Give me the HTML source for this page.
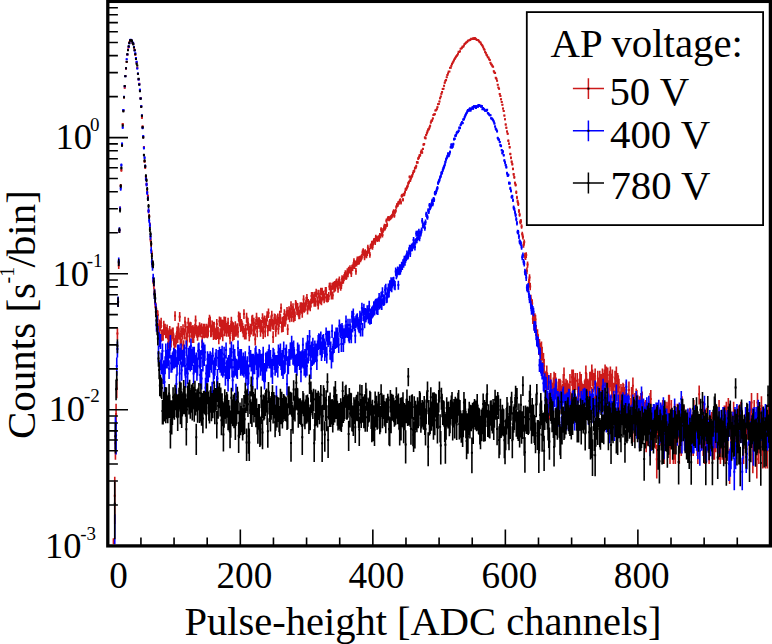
<!DOCTYPE html><html><head><meta charset="utf-8"><style>html,body{margin:0;padding:0;background:#fff;width:772px;height:644px;overflow:hidden}svg{display:block}</style></head><body>
<svg width="772" height="644" viewBox="0 0 772 644">
<rect width="772" height="644" fill="#fff"/>
<path d="M113.43 538.26V544.20M114.09 538.26V544.20M114.76 476.87V523.88M115.42 430.54V459.79M116.08 403.65V426.26M116.75 380.13V398.30M117.41 328.14V339.49M118.07 298.08V306.79M118.73 262.51V268.89M119.40 228.28V233.02M120.06 206.38V210.30M120.72 183.99V187.23M121.38 168.84V171.68M122.05 144.13V146.43M122.71 123.16V125.08M123.37 109.69V111.40M124.03 96.77V98.31M124.70 87.13V88.54M125.36 75.27V76.55M126.02 68.09V69.29M126.68 61.33V62.47M127.35 54.14V55.21M128.01 49.07V50.09M128.67 46.83V47.83M129.33 41.86V42.83M130.00 39.68V40.63M130.66 39.72V40.67M131.32 39.65V40.60M131.98 40.75V41.71M132.65 42.81V43.78M133.31 43.34V44.32M133.97 46.88V47.88M134.64 49.27V50.30M135.30 54.25V55.32M135.96 58.02V59.13M136.62 62.02V63.16M137.29 67.18V68.38M137.95 73.32V74.58M138.61 78.74V80.06M139.27 83.09V84.46M139.94 89.42V90.86M140.60 97.26V98.80M141.26 105.76V107.42M141.92 116.92V118.74M142.59 125.42V127.39M143.25 136.12V138.27M143.91 146.09V148.44M144.57 160.23V162.87M145.24 166.13V168.91M145.90 175.41V178.42M146.56 182.69V185.90M147.22 190.17V193.59M147.89 194.25V197.79M148.55 209.13V213.15M149.21 213.89V218.08M149.88 222.43V226.94M150.54 237.11V242.23M151.20 241.62V246.94M151.86 250.59V256.34M152.53 260.05V266.29M153.19 277.08V284.32M153.85 282.01V289.57M154.51 288.44V296.44M155.18 299.33V308.13M155.84 302.57V311.63M156.50 307.80V317.28M157.16 310.03V319.70M157.83 310.41V320.12M158.49 324.62V335.62M159.15 319.48V330.00M159.81 329.71V341.23M160.48 320.38V330.99M161.14 317.72V328.08M161.80 329.71V341.23M162.46 329.18V340.65M163.13 329.18V340.65M163.79 320.84V331.48M164.45 324.13V335.09M165.11 323.65V334.56M165.78 327.11V338.36M166.44 327.11V338.36M167.10 324.62V335.62M167.77 328.14V339.49M168.43 336.49V348.73M169.09 330.25V341.82M169.75 326.10V337.25M170.42 329.18V340.65M171.08 335.30V347.41M171.74 329.18V340.65M172.40 327.62V338.93M173.07 327.62V338.93M173.73 333.57V345.49M174.39 338.32V350.76M175.05 311.18V320.95M175.72 335.30V347.41M176.38 332.44V344.24M177.04 326.60V337.80M177.70 331.33V343.02M178.37 322.70V333.52M179.03 328.14V339.49M179.69 311.96V321.80M180.35 333.00V344.86M181.02 326.10V337.25M181.68 338.94V351.45M182.34 328.14V339.49M183.01 324.13V335.09M183.67 340.20V352.85M184.33 328.14V339.49M184.99 316.86V327.14M185.66 321.76V332.49M186.32 332.44V344.24M186.98 334.72V346.77M187.64 326.10V337.25M188.31 317.72V328.08M188.97 322.70V333.52M189.63 330.79V342.42M190.29 321.76V332.49M190.96 322.23V333.00M191.62 326.10V337.25M192.28 331.33V343.02M192.94 325.11V336.16M193.61 331.33V343.02M194.27 326.60V337.80M194.93 323.65V334.56M195.59 315.60V325.76M196.26 325.11V336.16M196.92 326.60V337.80M197.58 329.18V340.65M198.24 325.60V336.70M198.91 326.10V337.25M199.57 322.23V333.00M200.23 324.62V335.62M200.90 326.10V337.25M201.56 323.17V334.04M202.22 335.90V348.07M202.88 326.60V337.80M203.55 323.65V334.56M204.21 327.11V338.36M204.87 323.65V334.56M205.53 326.60V337.80M206.20 326.60V337.80M206.86 323.65V334.56M207.52 327.11V338.36M208.18 325.60V336.70M208.85 317.72V328.08M209.51 314.77V324.86M210.17 316.44V326.68M210.83 326.10V337.25M211.50 325.60V336.70M212.16 320.38V330.99M212.82 321.76V332.49M213.48 328.66V340.07M214.15 321.76V332.49M214.81 327.62V338.93M215.47 328.14V339.49M216.14 328.66V340.07M216.80 319.04V329.51M217.46 327.62V338.93M218.12 327.11V338.36M218.79 332.44V344.24M219.45 316.44V326.68M220.11 328.14V339.49M220.77 317.29V327.61M221.44 326.10V337.25M222.10 319.48V330.00M222.76 329.71V341.23M223.42 319.93V330.49M224.09 316.44V326.68M224.75 325.11V336.16M225.41 316.86V327.14M226.07 322.70V333.52M226.74 325.60V336.70M227.40 322.70V333.52M228.06 317.72V328.08M228.72 325.60V336.70M229.39 325.11V336.16M230.05 332.44V344.24M230.71 323.17V334.04M231.37 316.86V327.14M232.04 321.30V331.99M232.70 329.71V341.23M233.36 322.23V333.00M234.03 328.66V340.07M234.69 325.60V336.70M235.35 321.30V331.99M236.01 325.60V336.70M236.68 324.62V335.62M237.34 323.17V334.04M238.00 326.60V337.80M238.66 311.57V321.37M239.33 316.02V326.22M239.99 312.75V322.66M240.65 321.30V331.99M241.31 319.04V329.51M241.98 320.38V330.99M242.64 322.70V333.52M243.30 326.10V337.25M243.96 309.28V318.89M244.63 328.14V339.49M245.29 324.13V335.09M245.95 328.14V339.49M246.61 312.75V322.66M247.28 319.93V330.49M247.94 317.72V328.08M248.60 323.17V334.04M249.27 329.71V341.23M249.93 326.10V337.25M250.59 323.65V334.56M251.25 323.65V334.56M251.92 315.60V325.76M252.58 314.77V324.86M253.24 325.11V336.16M253.90 317.72V328.08M254.57 324.62V335.62M255.23 333.57V345.49M255.89 319.04V329.51M256.55 312.75V322.66M257.22 326.10V337.25M257.88 318.60V329.03M258.54 317.29V327.61M259.20 317.29V327.61M259.87 319.04V329.51M260.53 325.60V336.70M261.19 319.93V330.49M261.85 321.76V332.49M262.52 313.15V323.09M263.18 327.62V338.93M263.84 317.72V328.08M264.50 315.60V325.76M265.17 326.10V337.25M265.83 318.16V328.55M266.49 316.02V326.22M267.16 311.18V320.95M267.82 325.11V336.16M268.48 308.53V318.08M269.14 320.38V330.99M269.81 319.04V329.51M270.47 320.84V331.48M271.13 315.60V325.76M271.79 310.79V320.53M272.46 319.04V329.51M273.12 331.33V343.02M273.78 319.48V330.00M274.44 313.55V323.53M275.11 313.95V323.97M275.77 325.60V336.70M276.43 319.48V330.00M277.09 315.18V325.31M277.76 313.55V323.53M278.42 323.65V334.56M279.08 316.86V327.14M279.74 310.79V320.53M280.41 313.95V323.97M281.07 303.58V312.72M281.73 321.76V332.49M282.40 316.86V327.14M283.06 321.30V331.99M283.72 316.02V326.22M284.38 309.28V318.89M285.05 316.44V326.68M285.71 314.36V324.41M286.37 310.79V320.53M287.03 307.07V316.50M287.70 324.13V335.09M288.36 310.03V319.70M289.02 306.36V315.72M289.68 312.35V322.23M290.35 307.44V316.89M291.01 301.25V310.20M291.67 311.96V321.80M292.33 306.36V315.72M293.00 303.24V312.35M293.66 312.35V322.23M294.32 308.53V318.08M294.98 311.18V320.95M295.65 299.96V308.81M296.31 301.58V310.56M296.97 305.65V314.96M297.63 302.90V311.99M298.30 307.07V316.50M298.96 309.65V319.29M299.62 309.65V319.29M300.29 302.24V311.27M300.95 304.26V313.45M301.61 302.24V311.27M302.27 308.17V317.68M302.94 302.90V311.99M303.60 295.37V303.87M304.26 303.58V312.72M304.92 302.57V311.63M305.59 301.58V310.56M306.25 296.86V305.47M306.91 293.91V302.31M307.57 305.30V314.58M308.24 299.01V307.79M308.90 300.93V309.85M309.56 300.60V309.51M310.22 302.24V311.27M310.89 298.70V307.46M311.55 291.94V300.19M312.21 295.07V303.55M312.87 291.94V300.19M313.54 294.20V302.62M314.20 298.08V306.79M314.86 291.66V299.89M315.53 298.08V306.79M316.19 288.70V296.72M316.85 289.76V297.85M317.51 296.86V305.47M318.18 300.60V309.51M318.84 289.76V297.85M319.50 294.49V302.93M320.16 295.66V304.19M320.83 287.66V295.60M321.49 296.56V305.15M322.15 287.66V295.60M322.81 292.22V300.49M323.48 290.84V299.01M324.14 294.78V303.24M324.80 293.34V301.69M325.46 286.89V294.78M326.13 286.89V294.78M326.79 293.91V302.31M327.45 294.20V302.62M328.11 293.63V302.00M328.78 291.94V300.19M329.44 282.72V290.33M330.10 282.48V290.07M330.76 287.14V295.05M331.43 291.39V299.60M332.09 282.72V290.33M332.75 291.39V299.60M333.42 281.78V289.32M334.08 284.64V292.38M334.74 281.08V288.58M335.40 283.91V291.60M336.07 279.49V286.89M336.73 278.38V285.71M337.39 280.85V288.34M338.05 284.89V292.64M338.72 278.38V285.71M339.38 276.44V283.64M340.04 281.31V288.83M340.70 283.19V290.83M341.37 281.54V289.08M342.03 275.17V282.30M342.69 276.86V284.09M343.35 276.22V283.41M344.02 274.14V281.20M344.68 272.13V279.07M345.34 270.19V277.01M346.00 272.93V279.91M346.67 272.33V279.28M347.33 268.13V274.83M347.99 270.38V277.22M348.66 266.85V273.48M349.32 266.85V273.48M349.98 265.25V271.78M350.64 267.03V273.67M351.31 270.19V277.01M351.97 264.72V271.23M352.63 264.55V271.05M353.29 262.34V268.71M353.96 258.31V264.46M354.62 262.51V268.89M355.28 260.53V266.80M355.94 267.94V274.63M356.61 260.21V266.46M357.27 256.62V262.68M357.93 258.78V264.95M358.59 256.17V262.20M359.26 258.31V264.46M359.92 255.72V261.73M360.58 256.17V262.20M361.24 254.68V260.64M361.91 253.67V259.58M362.57 249.50V255.20M363.23 248.31V253.95M363.89 250.18V255.91M364.56 254.39V260.34M365.22 249.24V254.92M365.88 251.00V256.77M366.55 252.39V258.23M367.21 250.18V255.91M367.87 244.74V250.21M368.53 248.18V253.81M369.20 247.79V253.40M369.86 251.97V257.79M370.52 243.89V249.31M371.18 243.16V248.55M371.85 240.80V246.09M372.51 244.38V249.83M373.17 240.46V245.73M373.83 238.32V243.49M374.50 238.10V243.26M375.16 239.77V245.01M375.82 234.67V239.68M376.48 235.83V240.89M377.15 237.01V242.12M377.81 236.15V241.22M378.47 235.30V240.34M379.13 236.57V241.67M379.80 232.93V237.87M380.46 233.44V238.40M381.12 227.26V231.96M381.79 230.56V235.40M382.45 232.53V237.45M383.11 228.09V232.83M383.77 226.62V231.30M384.44 223.79V228.36M385.10 225.81V230.46M385.76 224.05V228.63M386.42 218.51V222.87M387.09 222.43V226.94M387.75 216.58V220.86M388.41 216.04V220.31M389.07 216.96V221.26M389.74 216.19V220.47M390.40 215.82V220.08M391.06 214.92V219.15M391.72 214.33V218.53M392.39 213.38V217.55M393.05 210.77V214.85M393.71 209.33V213.36M394.37 213.45V217.63M395.04 209.88V213.92M395.70 208.73V212.74M396.36 204.98V208.86M397.02 202.95V206.76M397.69 203.25V207.08M398.35 200.93V204.68M399.01 200.93V204.68M399.68 199.32V203.01M400.34 198.13V201.79M401.00 200.70V204.44M401.66 194.25V197.79M402.33 193.68V197.20M402.99 197.91V201.56M403.65 192.66V196.15M404.31 192.81V196.31M404.98 190.42V193.84M405.64 187.56V190.90M406.30 187.47V190.80M406.96 185.64V188.92M407.63 184.43V187.69M408.29 181.80V184.98M408.95 180.59V183.74M409.61 175.38V178.39M410.28 178.88V181.98M410.94 176.75V179.80M411.60 175.34V178.35M412.26 174.10V177.08M412.93 171.93V174.85M413.59 170.07V172.94M414.25 169.58V172.45M414.92 166.71V169.50M415.58 166.38V169.17M416.24 164.82V167.56M416.90 161.02V163.69M417.57 161.17V163.84M418.23 157.32V159.90M418.89 156.30V158.86M419.55 154.31V156.83M420.22 153.92V156.42M420.88 151.23V153.67M421.54 149.57V151.98M422.20 151.40V153.85M422.87 147.72V150.10M423.53 143.40V145.69M424.19 142.92V145.20M424.85 136.41V138.57M425.52 137.20V139.37M426.18 134.06V136.18M426.84 132.17V134.25M427.50 130.36V132.41M428.17 128.55V130.56M428.83 128.22V130.23M429.49 126.52V128.50M430.15 124.78V126.73M430.82 121.67V123.57M431.48 119.84V121.72M432.14 119.55V121.42M432.81 117.54V119.37M433.47 114.09V115.87M434.13 113.59V115.36M434.79 113.31V115.08M435.46 109.53V111.24M436.12 109.29V111.00M436.78 108.41V110.11M437.44 106.31V107.98M438.11 103.34V104.97M438.77 103.16V104.78M439.43 100.66V102.25M440.09 97.59V99.14M440.76 95.81V97.34M441.42 92.92V94.41M442.08 91.23V92.70M442.74 88.30V89.73M443.41 87.98V89.40M444.07 85.17V86.56M444.73 82.05V83.40M445.39 80.19V81.53M446.06 79.29V80.61M446.72 76.71V78.01M447.38 74.42V75.70M448.05 72.80V74.05M448.71 70.97V72.20M449.37 70.92V72.16M450.03 67.28V68.47M450.70 67.18V68.38M451.36 65.16V66.33M452.02 63.43V64.59M452.68 62.18V63.32M453.35 60.94V62.08M454.01 59.76V60.88M454.67 58.34V59.45M455.33 57.27V58.37M456.00 56.19V57.28M456.66 55.45V56.53M457.32 54.43V55.50M457.98 53.22V54.28M458.65 51.15V52.19M459.31 51.57V52.62M459.97 50.65V51.69M460.63 48.29V49.31M461.30 47.96V48.98M461.96 47.36V48.37M462.62 46.11V47.11M463.28 46.33V47.33M463.95 45.12V46.11M464.61 43.46V44.44M465.27 43.03V44.00M465.94 42.18V43.15M466.60 41.75V42.71M467.26 41.34V42.30M467.92 40.36V41.31M468.59 39.94V40.89M469.25 39.88V40.83M469.91 39.56V40.50M470.57 39.00V39.94M471.24 38.31V39.25M471.90 38.45V39.39M472.56 38.28V39.22M473.22 37.78V38.71M473.89 38.48V39.42M474.55 37.54V38.46M475.21 37.78V38.71M475.87 38.47V39.40M476.54 39.17V40.11M477.20 39.45V40.40M477.86 39.42V40.37M478.52 40.04V40.99M479.19 40.94V41.89M479.85 41.70V42.67M480.51 41.92V42.88M481.18 43.57V44.55M481.84 44.49V45.47M482.50 45.31V46.30M483.16 46.79V47.79M483.83 48.19V49.20M484.49 49.35V50.38M485.15 51.46V52.51M485.81 52.42V53.47M486.48 54.10V55.17M487.14 55.07V56.15M487.80 56.78V57.87M488.46 56.95V58.05M489.13 58.66V59.77M489.79 59.42V60.54M490.45 62.22V63.36M491.11 63.68V64.84M491.78 64.25V65.41M492.44 65.58V66.76M493.10 66.04V67.22M493.76 70.59V71.82M494.43 71.83V73.07M495.09 72.40V73.65M495.75 77.08V78.38M496.41 77.98V79.30M497.08 80.17V81.51M497.74 83.99V85.37M498.40 86.88V88.30M499.07 88.05V89.48M499.73 93.14V94.63M500.39 95.13V96.65M501.05 98.60V100.16M501.72 101.23V102.82M502.38 103.95V105.58M503.04 107.73V109.41M503.70 110.16V111.88M504.37 114.63V116.42M505.03 118.41V120.26M505.69 123.55V125.48M506.35 126.75V128.73M507.02 130.47V132.52M507.68 132.71V134.80M508.34 139.58V141.79M509.00 142.59V144.87M509.67 146.05V148.39M510.33 152.85V155.33M510.99 156.58V159.14M511.65 160.49V163.14M512.32 162.80V165.50M512.98 167.50V170.31M513.64 172.90V175.84M514.31 175.68V178.70M514.97 181.42V184.59M515.63 183.30V186.52M516.29 190.57V193.99M516.96 195.73V199.32M517.62 199.66V203.36M518.28 202.11V205.90M518.94 209.06V213.08M519.61 212.66V216.81M520.27 219.87V224.28M520.93 219.07V223.45M521.59 224.14V228.72M522.26 231.63V236.52M522.92 234.57V239.58M523.58 242.33V247.68M524.24 239.44V244.66M524.91 252.81V258.68M525.57 254.10V260.03M526.23 252.25V258.08M526.89 267.58V274.24M527.56 261.51V267.84M528.22 283.43V291.09M528.88 278.60V285.94M529.54 274.14V281.20M530.21 282.72V290.33M530.87 294.78V303.24M531.53 300.93V309.85M532.20 299.33V308.13M532.86 313.95V323.97M533.52 313.95V323.97M534.18 319.93V330.49M534.85 313.15V323.09M535.51 314.77V324.86M536.17 325.11V336.16M536.83 332.44V344.24M537.50 329.18V340.65M538.16 334.14V346.12M538.82 342.16V355.03M539.48 338.94V351.45M540.15 342.82V355.77M540.81 349.18V362.89M541.47 341.50V354.30M542.13 346.98V360.42M542.80 361.65V377.00M543.46 353.04V367.24M544.12 358.93V373.91M544.78 374.05V391.23M545.45 371.79V388.62M546.11 370.69V387.35M546.77 365.49V381.39M547.44 372.91V389.91M548.10 393.05V413.52M548.76 394.68V415.47M549.42 398.10V419.56M550.09 375.22V392.58M550.75 372.91V389.91M551.41 381.43V399.82M552.07 384.12V402.97M552.74 382.76V401.37M553.40 377.62V395.38M554.06 371.79V388.62M554.72 378.86V396.82M555.39 372.91V389.91M556.05 377.62V395.38M556.71 381.43V399.82M557.37 393.05V413.52M558.04 388.41V408.02M558.70 378.86V396.82M559.36 380.13V398.30M560.02 378.86V396.82M560.69 380.13V398.30M561.35 393.05V413.52M562.01 385.51V404.61M562.67 384.12V402.97M563.34 374.05V391.23M564.00 367.52V383.70M564.66 382.76V401.37M565.33 384.12V402.97M565.99 378.86V396.82M566.65 381.43V399.82M567.31 380.13V398.30M567.98 382.76V401.37M568.64 384.12V402.97M569.30 389.91V409.80M569.96 374.05V391.23M570.63 391.46V411.63M571.29 396.36V417.48M571.95 369.61V386.11M572.61 374.05V391.23M573.28 369.61V386.11M573.94 384.12V402.97M574.60 377.62V395.38M575.26 372.91V389.91M575.93 399.89V421.72M576.59 398.10V419.56M577.25 372.91V389.91M577.91 382.76V401.37M578.58 382.76V401.37M579.24 378.86V396.82M579.90 371.79V388.62M580.57 382.76V401.37M581.23 374.05V391.23M581.89 382.76V401.37M582.55 396.36V417.48M583.22 384.12V402.97M583.88 386.94V406.29M584.54 380.13V398.30M585.20 378.86V396.82M585.87 365.49V381.39M586.53 372.91V389.91M587.19 386.94V406.29M587.85 378.86V396.82M588.52 380.13V398.30M589.18 380.13V398.30M589.84 371.79V388.62M590.50 371.79V388.62M591.17 386.94V406.29M591.83 364.51V380.26M592.49 369.61V386.11M593.15 375.22V392.58M593.82 372.91V389.91M594.48 396.36V417.48M595.14 368.55V384.90M595.80 381.43V399.82M596.47 388.41V408.02M597.13 382.76V401.37M597.79 370.69V387.35M598.46 378.86V396.82M599.12 386.94V406.29M599.78 370.69V387.35M600.44 376.41V393.96M601.11 374.05V391.23M601.77 377.62V395.38M602.43 368.55V384.90M603.09 372.91V389.91M603.76 380.13V398.30M604.42 369.61V386.11M605.08 364.51V380.26M605.74 370.69V387.35M606.41 366.50V382.53M607.07 371.79V388.62M607.73 367.52V383.70M608.39 380.13V398.30M609.06 386.94V406.29M609.72 370.69V387.35M610.38 366.50V382.53M611.04 374.05V391.23M611.71 380.13V398.30M612.37 369.61V386.11M613.03 382.76V401.37M613.70 382.76V401.37M614.36 394.68V415.47M615.02 370.69V387.35M615.68 378.86V396.82M616.35 366.50V382.53M617.01 382.76V401.37M617.67 372.91V389.91M618.33 375.22V392.58M619.00 378.86V396.82M619.66 391.46V411.63M620.32 393.05V413.52M620.98 384.12V402.97M621.65 398.10V419.56M622.31 386.94V406.29M622.97 382.76V401.37M623.63 384.12V402.97M624.30 386.94V406.29M624.96 391.46V411.63M625.62 399.89V421.72M626.28 381.43V399.82M626.95 393.05V413.52M627.61 401.74V423.95M628.27 394.68V415.47M628.93 381.43V399.82M629.60 407.67V431.16M630.26 405.62V428.66M630.92 398.10V419.56M631.59 386.94V406.29M632.25 405.62V428.66M632.91 377.62V395.38M633.57 401.74V423.95M634.24 416.71V442.31M634.90 393.05V413.52M635.56 394.68V415.47M636.22 388.41V408.02M636.89 389.91V409.80M637.55 394.68V415.47M638.21 399.89V421.72M638.87 409.80V433.77M639.54 396.36V417.48M640.20 401.74V423.95M640.86 393.05V413.52M641.52 403.65V426.26M642.19 391.46V411.63M642.85 399.89V421.72M643.51 401.74V423.95M644.17 409.80V433.77M644.84 401.74V423.95M645.50 399.89V421.72M646.16 424.59V452.20M646.83 403.65V426.26M647.49 419.21V445.43M648.15 407.67V431.16M648.81 401.74V423.95M649.48 409.80V433.77M650.14 393.05V413.52M650.80 389.91V409.80M651.46 421.84V448.73M652.13 421.84V448.73M652.79 409.80V433.77M653.45 412.01V436.48M654.11 407.67V431.16M654.78 405.62V428.66M655.44 421.84V448.73M656.10 407.67V431.16M656.76 444.76V478.43M657.43 414.31V439.33M658.09 403.65V426.26M658.75 412.01V436.48M659.41 407.67V431.16M660.08 419.21V445.43M660.74 403.65V426.26M661.40 405.62V428.66M662.06 421.84V448.73M662.73 399.89V421.72M663.39 403.65V426.26M664.05 433.77V463.96M664.72 419.21V445.43M665.38 407.67V431.16M666.04 401.74V423.95M666.70 419.21V445.43M667.37 405.62V428.66M668.03 401.74V423.95M668.69 394.68V415.47M669.35 394.68V415.47M670.02 433.77V463.96M670.68 421.84V448.73M671.34 399.89V421.72M672.00 419.21V445.43M672.67 412.01V436.48M673.33 433.77V463.96M673.99 430.54V459.79M674.65 403.65V426.26M675.32 433.77V463.96M675.98 412.01V436.48M676.64 407.67V431.16M677.30 403.65V426.26M677.97 403.65V426.26M678.63 414.31V439.33M679.29 433.77V463.96M679.96 409.80V433.77M680.62 412.01V436.48M681.28 427.48V455.88M681.94 396.36V417.48M682.61 414.31V439.33M683.27 412.01V436.48M683.93 405.62V428.66M684.59 419.21V445.43M685.26 424.59V452.20M685.92 419.21V445.43M686.58 421.84V448.73M687.24 421.84V448.73M687.91 409.80V433.77M688.57 424.59V452.20M689.23 424.59V452.20M689.89 407.67V431.16M690.56 409.80V433.77M691.22 414.31V439.33M691.88 414.31V439.33M692.54 421.84V448.73M693.21 427.48V455.88M693.87 399.89V421.72M694.53 416.71V442.31M695.19 407.67V431.16M695.86 409.80V433.77M696.52 407.67V431.16M697.18 427.48V455.88M697.85 433.77V463.96M698.51 416.71V442.31M699.17 385.51V404.61M699.83 421.84V448.73M700.50 416.71V442.31M701.16 409.80V433.77M701.82 421.84V448.73M702.48 421.84V448.73M703.15 427.48V455.88M703.81 401.74V423.95M704.47 433.77V463.96M705.13 421.84V448.73M705.80 419.21V445.43M706.46 407.67V431.16M707.12 412.01V436.48M707.78 416.71V442.31M708.45 424.59V452.20M709.11 433.77V463.96M709.77 416.71V442.31M710.43 427.48V455.88M711.10 414.31V439.33M711.76 412.01V436.48M712.42 421.84V448.73M713.09 430.54V459.79M713.75 414.31V439.33M714.41 430.54V459.79M715.07 409.80V433.77M715.74 424.59V452.20M716.40 412.01V436.48M717.06 419.21V445.43M717.72 416.71V442.31M718.39 430.54V459.79M719.05 399.89V421.72M719.71 430.54V459.79M720.37 433.77V463.96M721.04 421.84V448.73M721.70 416.71V442.31M722.36 430.54V459.79M723.02 414.31V439.33M723.69 409.80V433.77M724.35 405.62V428.66M725.01 433.77V463.96M725.67 405.62V428.66M726.34 401.74V423.95M727.00 430.54V459.79M727.66 424.59V452.20M728.32 398.10V419.56M728.99 403.65V426.26M729.65 448.97V484.09M730.31 407.67V431.16M730.98 424.59V452.20M731.64 419.21V445.43M732.30 414.31V439.33M732.96 419.21V445.43M733.63 401.74V423.95M734.29 424.59V452.20M734.95 419.21V445.43M735.61 412.01V436.48M736.28 409.80V433.77M736.94 424.59V452.20M737.60 416.71V442.31M738.26 405.62V428.66M738.93 421.84V448.73M739.59 416.71V442.31M740.25 416.71V442.31M740.91 401.74V423.95M741.58 407.67V431.16M742.24 416.71V442.31M742.90 427.48V455.88M743.56 433.77V463.96M744.23 419.21V445.43M744.89 414.31V439.33M745.55 419.21V445.43M746.22 414.31V439.33M746.88 412.01V436.48M747.54 414.31V439.33M748.20 412.01V436.48M748.87 419.21V445.43M749.53 427.48V455.88M750.19 412.01V436.48M750.85 401.74V423.95M751.52 393.05V413.52M752.18 414.31V439.33M752.84 440.85V473.23M753.50 407.67V431.16M754.17 399.89V421.72M754.83 421.84V448.73M755.49 416.71V442.31M756.15 430.54V459.79M756.82 444.76V478.43M757.48 393.05V413.52M758.14 399.89V421.72M758.80 433.77V463.96M759.47 416.71V442.31M760.13 407.67V431.16M760.79 427.48V455.88M761.45 396.36V417.48M762.12 407.67V431.16M762.78 437.19V468.42M763.44 419.21V445.43M764.11 416.71V442.31M764.77 409.80V433.77M765.43 437.19V468.42M766.09 419.21V445.43M766.76 419.21V445.43M767.42 437.19V468.42M768.08 409.80V433.77M768.74 403.65V426.26" stroke="#cc1a1a" stroke-width="1.60" fill="none"/><path d="M113.76 495.82h2.00M114.42 443.37h2.00M115.08 413.88h2.00M115.75 388.52h2.00M116.41 333.54h2.00M117.07 302.27h2.00M117.73 265.61h2.00M118.40 230.60h2.00M119.06 208.31h2.00M119.72 185.59h2.00M120.38 170.24h2.00M121.05 145.27h2.00M121.71 124.11h2.00M122.37 110.54h2.00M123.03 97.53h2.00M123.70 87.83h2.00M124.36 75.90h2.00M125.02 68.69h2.00M125.68 61.90h2.00M126.35 54.67h2.00M127.01 49.58h2.00M127.67 47.33h2.00M128.33 42.34h2.00M129.00 40.15h2.00M129.66 40.19h2.00M130.32 40.12h2.00M130.98 41.23h2.00M131.65 43.30h2.00M132.31 43.83h2.00M132.97 47.38h2.00M133.64 49.78h2.00M134.30 54.78h2.00M134.96 58.57h2.00M135.62 62.59h2.00M136.29 67.78h2.00M136.95 73.95h2.00M137.61 79.40h2.00M138.27 83.77h2.00M138.94 90.13h2.00M139.60 98.03h2.00M140.26 106.58h2.00M140.92 117.82h2.00M141.59 126.40h2.00M142.25 137.19h2.00M142.91 147.25h2.00M143.57 161.54h2.00M144.24 167.50h2.00M144.90 176.90h2.00M145.56 184.27h2.00M146.22 191.86h2.00M146.89 196.00h2.00M147.55 211.11h2.00M148.21 215.95h2.00M148.88 224.64h2.00M149.54 239.62h2.00M150.20 244.22h2.00M150.86 253.39h2.00M151.53 263.09h2.00M152.19 280.59h2.00M152.85 285.67h2.00M153.51 292.30h2.00M154.18 303.57h2.00M154.84 306.93h2.00M155.50 312.35h2.00M156.16 314.67h2.00M156.83 315.07h2.00M157.49 329.86h2.00M158.15 324.51h2.00M158.81 335.19h2.00M159.48 325.45h2.00M160.14 322.68h2.00M160.80 335.19h2.00M161.46 334.64h2.00M162.13 334.64h2.00M162.79 325.92h2.00M163.45 329.36h2.00M164.11 328.85h2.00M164.78 332.47h2.00M165.44 332.47h2.00M166.10 329.86h2.00M166.77 333.54h2.00M167.43 342.29h2.00M168.09 335.75h2.00M168.75 331.41h2.00M169.42 334.64h2.00M170.08 341.05h2.00M170.74 334.64h2.00M171.40 333.00h2.00M172.07 333.00h2.00M172.73 339.23h2.00M173.39 344.21h2.00M174.05 315.86h2.00M174.72 341.05h2.00M175.38 338.05h2.00M176.04 331.94h2.00M176.70 336.89h2.00M177.37 327.86h2.00M178.03 333.54h2.00M178.69 316.67h2.00M179.35 338.64h2.00M180.02 331.41h2.00M180.68 344.86h2.00M181.34 333.54h2.00M182.01 329.36h2.00M182.67 346.19h2.00M183.33 333.54h2.00M183.99 321.78h2.00M184.66 326.88h2.00M185.32 338.05h2.00M185.98 340.44h2.00M186.64 331.41h2.00M187.31 322.68h2.00M187.97 327.86h2.00M188.63 336.32h2.00M189.29 326.88h2.00M189.96 327.37h2.00M190.62 331.41h2.00M191.28 336.89h2.00M191.94 330.38h2.00M192.61 336.89h2.00M193.27 331.94h2.00M193.93 328.85h2.00M194.59 320.46h2.00M195.26 330.38h2.00M195.92 331.94h2.00M196.58 334.64h2.00M197.24 330.89h2.00M197.91 331.41h2.00M198.57 327.37h2.00M199.23 329.86h2.00M199.90 331.41h2.00M200.56 328.35h2.00M201.22 341.67h2.00M201.88 331.94h2.00M202.55 328.85h2.00M203.21 332.47h2.00M203.87 328.85h2.00M204.53 331.94h2.00M205.20 331.94h2.00M205.86 328.85h2.00M206.52 332.47h2.00M207.18 330.89h2.00M207.85 322.68h2.00M208.51 319.60h2.00M209.17 321.34h2.00M209.83 331.41h2.00M210.50 330.89h2.00M211.16 325.45h2.00M211.82 326.88h2.00M212.48 334.09h2.00M213.15 326.88h2.00M213.81 333.00h2.00M214.47 333.54h2.00M215.14 334.09h2.00M215.80 324.04h2.00M216.46 333.00h2.00M217.12 332.47h2.00M217.79 338.05h2.00M218.45 321.34h2.00M219.11 333.54h2.00M219.77 322.23h2.00M220.44 331.41h2.00M221.10 324.51h2.00M221.76 335.19h2.00M222.42 324.98h2.00M223.09 321.34h2.00M223.75 330.38h2.00M224.41 321.78h2.00M225.07 327.86h2.00M225.74 330.89h2.00M226.40 327.86h2.00M227.06 322.68h2.00M227.72 330.89h2.00M228.39 330.38h2.00M229.05 338.05h2.00M229.71 328.35h2.00M230.37 321.78h2.00M231.04 326.40h2.00M231.70 335.19h2.00M232.36 327.37h2.00M233.03 334.09h2.00M233.69 330.89h2.00M234.35 326.40h2.00M235.01 330.89h2.00M235.68 329.86h2.00M236.34 328.35h2.00M237.00 331.94h2.00M237.66 316.27h2.00M238.33 320.90h2.00M238.99 317.49h2.00M239.65 326.40h2.00M240.31 324.04h2.00M240.98 325.45h2.00M241.64 327.86h2.00M242.30 331.41h2.00M242.96 313.89h2.00M243.63 333.54h2.00M244.29 329.36h2.00M244.95 333.54h2.00M245.61 317.49h2.00M246.28 324.98h2.00M246.94 322.68h2.00M247.60 328.35h2.00M248.27 335.19h2.00M248.93 331.41h2.00M249.59 328.85h2.00M250.25 328.85h2.00M250.92 320.46h2.00M251.58 319.60h2.00M252.24 330.38h2.00M252.90 322.68h2.00M253.57 329.86h2.00M254.23 339.23h2.00M254.89 324.04h2.00M255.55 317.49h2.00M256.22 331.41h2.00M256.88 323.58h2.00M257.54 322.23h2.00M258.20 322.23h2.00M258.87 324.04h2.00M259.53 330.89h2.00M260.19 324.98h2.00M260.85 326.88h2.00M261.52 317.91h2.00M262.18 333.00h2.00M262.84 322.68h2.00M263.50 320.46h2.00M264.17 331.41h2.00M264.83 323.13h2.00M265.49 320.90h2.00M266.16 315.86h2.00M266.82 330.38h2.00M267.48 313.11h2.00M268.14 325.45h2.00M268.81 324.04h2.00M269.47 325.92h2.00M270.13 320.46h2.00M270.79 315.46h2.00M271.46 324.04h2.00M272.12 336.89h2.00M272.78 324.51h2.00M273.44 318.33h2.00M274.11 318.75h2.00M274.77 330.89h2.00M275.43 324.51h2.00M276.09 320.03h2.00M276.76 318.33h2.00M277.42 328.85h2.00M278.08 321.78h2.00M278.74 315.46h2.00M279.41 318.75h2.00M280.07 307.97h2.00M280.73 326.88h2.00M281.40 321.78h2.00M282.06 326.40h2.00M282.72 320.90h2.00M283.38 313.89h2.00M284.05 321.34h2.00M284.71 319.17h2.00M285.37 315.46h2.00M286.03 311.60h2.00M286.70 329.36h2.00M287.36 314.67h2.00M288.02 310.86h2.00M288.68 317.08h2.00M289.35 311.97h2.00M290.01 305.56h2.00M290.67 316.67h2.00M291.33 310.86h2.00M292.00 307.62h2.00M292.66 317.08h2.00M293.32 313.11h2.00M293.98 315.86h2.00M294.65 304.22h2.00M295.31 305.90h2.00M295.97 310.12h2.00M296.63 307.27h2.00M297.30 311.60h2.00M297.96 314.28h2.00M298.62 314.28h2.00M299.29 306.58h2.00M299.95 308.68h2.00M300.61 306.58h2.00M301.27 312.73h2.00M301.94 307.27h2.00M302.60 299.47h2.00M303.26 307.97h2.00M303.92 306.93h2.00M304.59 305.90h2.00M305.25 301.01h2.00M305.91 297.96h2.00M306.57 309.76h2.00M307.24 303.24h2.00M307.90 305.22h2.00M308.56 304.89h2.00M309.22 306.58h2.00M309.89 302.92h2.00M310.55 295.92h2.00M311.21 299.16h2.00M311.87 295.92h2.00M312.54 298.26h2.00M313.20 302.27h2.00M313.86 295.63h2.00M314.53 302.27h2.00M315.19 292.57h2.00M315.85 293.67h2.00M316.51 301.01h2.00M317.18 304.89h2.00M317.84 293.67h2.00M318.50 298.56h2.00M319.16 299.77h2.00M319.83 291.50h2.00M320.49 300.70h2.00M321.15 291.50h2.00M321.81 296.21h2.00M322.48 294.78h2.00M323.14 298.86h2.00M323.80 297.37h2.00M324.46 290.70h2.00M325.13 290.70h2.00M325.79 297.96h2.00M326.45 298.26h2.00M327.11 297.67h2.00M327.78 295.92h2.00M328.44 286.40h2.00M329.10 286.16h2.00M329.76 290.97h2.00M330.43 295.35h2.00M331.09 286.40h2.00M331.75 295.35h2.00M332.42 285.43h2.00M333.08 288.39h2.00M333.74 284.71h2.00M334.40 287.63h2.00M335.07 283.07h2.00M335.73 281.93h2.00M336.39 284.48h2.00M337.05 288.64h2.00M337.72 281.93h2.00M338.38 279.93h2.00M339.04 284.95h2.00M339.70 286.89h2.00M340.37 285.19h2.00M341.03 278.63h2.00M341.69 280.37h2.00M342.35 279.71h2.00M343.02 277.57h2.00M343.68 275.50h2.00M344.34 273.50h2.00M345.00 276.32h2.00M345.67 275.70h2.00M346.33 271.38h2.00M346.99 273.70h2.00M347.66 270.07h2.00M348.32 270.07h2.00M348.98 268.43h2.00M349.64 270.26h2.00M350.31 273.50h2.00M350.97 267.89h2.00M351.63 267.71h2.00M352.29 265.44h2.00M352.96 261.30h2.00M353.62 265.61h2.00M354.28 263.58h2.00M354.94 271.19h2.00M355.61 263.25h2.00M356.27 259.57h2.00M356.93 261.79h2.00M357.59 259.11h2.00M358.26 261.30h2.00M358.92 258.65h2.00M359.58 259.11h2.00M360.24 257.59h2.00M360.91 256.55h2.00M361.57 252.28h2.00M362.23 251.06h2.00M362.89 252.97h2.00M363.56 257.29h2.00M364.22 252.01h2.00M364.88 253.81h2.00M365.55 255.24h2.00M366.21 252.97h2.00M366.87 247.42h2.00M367.53 250.93h2.00M368.20 250.53h2.00M368.86 254.81h2.00M369.52 246.54h2.00M370.18 245.80h2.00M370.85 243.39h2.00M371.51 247.04h2.00M372.17 243.04h2.00M372.83 240.85h2.00M373.50 240.62h2.00M374.16 242.34h2.00M374.82 237.13h2.00M375.48 238.30h2.00M376.15 239.51h2.00M376.81 238.63h2.00M377.47 237.77h2.00M378.13 239.07h2.00M378.80 235.35h2.00M379.46 235.87h2.00M380.12 229.57h2.00M380.79 232.93h2.00M381.45 234.94h2.00M382.11 230.41h2.00M382.77 228.92h2.00M383.44 226.03h2.00M384.10 228.09h2.00M384.76 226.30h2.00M385.42 220.65h2.00M386.09 224.64h2.00M386.75 218.68h2.00M387.41 218.14h2.00M388.07 219.07h2.00M388.74 218.29h2.00M389.40 217.91h2.00M390.06 217.00h2.00M390.72 216.39h2.00M391.39 215.43h2.00M392.05 212.77h2.00M392.71 211.31h2.00M393.37 215.50h2.00M394.04 211.86h2.00M394.70 210.70h2.00M395.36 206.89h2.00M396.02 204.83h2.00M396.69 205.13h2.00M397.35 202.77h2.00M398.01 202.77h2.00M398.68 201.13h2.00M399.34 199.93h2.00M400.00 202.54h2.00M400.66 196.00h2.00M401.33 195.42h2.00M401.99 199.71h2.00M402.65 194.38h2.00M403.31 194.53h2.00M403.98 192.11h2.00M404.64 189.21h2.00M405.30 189.11h2.00M405.96 187.26h2.00M406.63 186.04h2.00M407.29 183.37h2.00M407.95 182.14h2.00M408.61 176.86h2.00M409.28 180.41h2.00M409.94 178.26h2.00M410.60 176.82h2.00M411.26 175.57h2.00M411.93 173.37h2.00M412.59 171.49h2.00M413.25 171.00h2.00M413.92 168.09h2.00M414.58 167.76h2.00M415.24 166.17h2.00M415.90 162.34h2.00M416.57 162.49h2.00M417.23 158.60h2.00M417.89 157.57h2.00M418.55 155.56h2.00M419.22 155.16h2.00M419.88 152.44h2.00M420.54 150.76h2.00M421.20 152.62h2.00M421.87 148.90h2.00M422.53 144.53h2.00M423.19 144.05h2.00M423.85 137.48h2.00M424.52 138.27h2.00M425.18 135.11h2.00M425.84 133.20h2.00M426.50 131.38h2.00M427.17 129.54h2.00M427.83 129.22h2.00M428.49 127.50h2.00M429.15 125.75h2.00M429.82 122.61h2.00M430.48 120.77h2.00M431.14 120.48h2.00M431.81 118.45h2.00M432.47 114.98h2.00M433.13 114.47h2.00M433.79 114.19h2.00M434.46 110.38h2.00M435.12 110.14h2.00M435.78 109.26h2.00M436.44 107.14h2.00M437.11 104.15h2.00M437.77 103.96h2.00M438.43 101.45h2.00M439.09 98.36h2.00M439.76 96.57h2.00M440.42 93.66h2.00M441.08 91.96h2.00M441.74 89.01h2.00M442.41 88.69h2.00M443.07 85.86h2.00M443.73 82.72h2.00M444.39 80.86h2.00M445.06 79.94h2.00M445.72 77.36h2.00M446.38 75.06h2.00M447.05 73.42h2.00M447.71 71.58h2.00M448.37 71.54h2.00M449.03 67.87h2.00M449.70 67.78h2.00M450.36 65.74h2.00M451.02 64.00h2.00M451.68 62.75h2.00M452.35 61.51h2.00M453.01 60.32h2.00M453.67 58.89h2.00M454.33 57.82h2.00M455.00 56.73h2.00M455.66 55.99h2.00M456.32 54.96h2.00M456.98 53.75h2.00M457.65 51.67h2.00M458.31 52.09h2.00M458.97 51.17h2.00M459.63 48.80h2.00M460.30 48.47h2.00M460.96 47.87h2.00M461.62 46.61h2.00M462.28 46.83h2.00M462.95 45.61h2.00M463.61 43.95h2.00M464.27 43.52h2.00M464.94 42.66h2.00M465.60 42.23h2.00M466.26 41.82h2.00M466.92 40.83h2.00M467.59 40.41h2.00M468.25 40.35h2.00M468.91 40.03h2.00M469.57 39.47h2.00M470.24 38.78h2.00M470.90 38.92h2.00M471.56 38.75h2.00M472.22 38.24h2.00M472.89 38.95h2.00M473.55 38.00h2.00M474.21 38.24h2.00M474.87 38.93h2.00M475.54 39.64h2.00M476.20 39.93h2.00M476.86 39.89h2.00M477.52 40.51h2.00M478.19 41.41h2.00M478.85 42.18h2.00M479.51 42.40h2.00M480.18 44.06h2.00M480.84 44.98h2.00M481.50 45.80h2.00M482.16 47.29h2.00M482.83 48.69h2.00M483.49 49.86h2.00M484.15 51.98h2.00M484.81 52.94h2.00M485.48 54.63h2.00M486.14 55.61h2.00M486.80 57.32h2.00M487.46 57.50h2.00M488.13 59.21h2.00M488.79 59.98h2.00M489.45 62.79h2.00M490.11 64.26h2.00M490.78 64.83h2.00M491.44 66.17h2.00M492.10 66.63h2.00M492.76 71.20h2.00M493.43 72.45h2.00M494.09 73.02h2.00M494.75 77.73h2.00M495.41 78.64h2.00M496.08 80.83h2.00M496.74 84.67h2.00M497.40 87.59h2.00M498.07 88.76h2.00M498.73 93.88h2.00M499.39 95.89h2.00M500.05 99.37h2.00M500.72 102.02h2.00M501.38 104.76h2.00M502.04 108.56h2.00M502.70 111.01h2.00M503.37 115.52h2.00M504.03 119.32h2.00M504.69 124.51h2.00M505.35 127.73h2.00M506.02 131.48h2.00M506.68 133.75h2.00M507.34 140.67h2.00M508.00 143.72h2.00M508.67 147.21h2.00M509.33 154.08h2.00M509.99 157.84h2.00M510.65 161.80h2.00M511.32 164.13h2.00M511.98 168.89h2.00M512.64 174.35h2.00M513.31 177.17h2.00M513.97 182.99h2.00M514.63 184.89h2.00M515.29 192.25h2.00M515.96 197.50h2.00M516.62 201.48h2.00M517.28 203.97h2.00M517.94 211.04h2.00M518.61 214.70h2.00M519.27 222.04h2.00M519.93 221.22h2.00M520.59 226.38h2.00M521.26 234.02h2.00M521.92 237.02h2.00M522.58 244.94h2.00M523.24 241.99h2.00M523.91 255.67h2.00M524.57 256.99h2.00M525.23 255.09h2.00M525.89 270.82h2.00M526.56 264.59h2.00M527.22 287.14h2.00M527.88 282.16h2.00M528.54 277.57h2.00M529.21 286.40h2.00M529.87 298.86h2.00M530.53 305.22h2.00M531.20 303.57h2.00M531.86 318.75h2.00M532.52 318.75h2.00M533.18 324.98h2.00M533.85 317.91h2.00M534.51 319.60h2.00M535.17 330.38h2.00M535.83 338.05h2.00M536.50 334.64h2.00M537.16 339.83h2.00M537.82 348.24h2.00M538.48 344.86h2.00M539.15 348.94h2.00M539.81 355.64h2.00M540.47 347.55h2.00M541.13 353.32h2.00M541.80 368.83h2.00M542.46 359.72h2.00M543.12 365.95h2.00M543.78 382.02h2.00M544.45 379.61h2.00M545.11 378.44h2.00M545.77 372.91h2.00M546.44 380.80h2.00M547.10 402.40h2.00M547.76 404.17h2.00M548.42 407.86h2.00M549.09 383.26h2.00M549.75 380.80h2.00M550.41 389.91h2.00M551.07 392.80h2.00M551.74 391.34h2.00M552.40 385.83h2.00M553.06 379.61h2.00M553.72 387.16h2.00M554.39 380.80h2.00M555.05 385.83h2.00M555.71 389.91h2.00M556.37 402.40h2.00M557.04 397.40h2.00M557.70 387.16h2.00M558.36 388.52h2.00M559.02 387.16h2.00M559.69 388.52h2.00M560.35 402.40h2.00M561.01 394.29h2.00M561.67 392.80h2.00M562.34 382.02h2.00M563.00 375.06h2.00M563.66 391.34h2.00M564.33 392.80h2.00M564.99 387.16h2.00M565.65 389.91h2.00M566.31 388.52h2.00M566.98 391.34h2.00M567.64 392.80h2.00M568.30 399.02h2.00M568.96 382.02h2.00M569.63 400.69h2.00M570.29 405.99h2.00M570.95 377.29h2.00M571.61 382.02h2.00M572.28 377.29h2.00M572.94 392.80h2.00M573.60 385.83h2.00M574.26 380.80h2.00M574.93 409.80h2.00M575.59 407.86h2.00M576.25 380.80h2.00M576.91 391.34h2.00M577.58 391.34h2.00M578.24 387.16h2.00M578.90 379.61h2.00M579.57 391.34h2.00M580.23 382.02h2.00M580.89 391.34h2.00M581.55 405.99h2.00M582.22 392.80h2.00M582.88 395.83h2.00M583.54 388.52h2.00M584.20 387.16h2.00M584.87 372.91h2.00M585.53 380.80h2.00M586.19 395.83h2.00M586.85 387.16h2.00M587.52 388.52h2.00M588.18 388.52h2.00M588.84 379.61h2.00M589.50 379.61h2.00M590.17 395.83h2.00M590.83 371.86h2.00M591.49 377.29h2.00M592.15 383.26h2.00M592.82 380.80h2.00M593.48 405.99h2.00M594.14 376.16h2.00M594.80 389.91h2.00M595.47 397.40h2.00M596.13 391.34h2.00M596.79 378.44h2.00M597.46 387.16h2.00M598.12 395.83h2.00M598.78 378.44h2.00M599.44 384.53h2.00M600.11 382.02h2.00M600.77 385.83h2.00M601.43 376.16h2.00M602.09 380.80h2.00M602.76 388.52h2.00M603.42 377.29h2.00M604.08 371.86h2.00M604.74 378.44h2.00M605.41 373.97h2.00M606.07 379.61h2.00M606.73 375.06h2.00M607.39 388.52h2.00M608.06 395.83h2.00M608.72 378.44h2.00M609.38 373.97h2.00M610.04 382.02h2.00M610.71 388.52h2.00M611.37 377.29h2.00M612.03 391.34h2.00M612.70 391.34h2.00M613.36 404.17h2.00M614.02 378.44h2.00M614.68 387.16h2.00M615.35 373.97h2.00M616.01 391.34h2.00M616.67 380.80h2.00M617.33 383.26h2.00M618.00 387.16h2.00M618.66 400.69h2.00M619.32 402.40h2.00M619.98 392.80h2.00M620.65 407.86h2.00M621.31 395.83h2.00M621.97 391.34h2.00M622.63 392.80h2.00M623.30 395.83h2.00M623.96 400.69h2.00M624.62 409.80h2.00M625.28 389.91h2.00M625.95 402.40h2.00M626.61 411.80h2.00M627.27 404.17h2.00M627.93 389.91h2.00M628.60 418.26h2.00M629.26 416.03h2.00M629.92 407.86h2.00M630.59 395.83h2.00M631.25 416.03h2.00M631.91 385.83h2.00M632.57 411.80h2.00M633.24 428.13h2.00M633.90 402.40h2.00M634.56 404.17h2.00M635.22 397.40h2.00M635.89 399.02h2.00M636.55 404.17h2.00M637.21 409.80h2.00M637.87 420.58h2.00M638.54 405.99h2.00M639.20 411.80h2.00M639.86 402.40h2.00M640.52 413.88h2.00M641.19 400.69h2.00M641.85 409.80h2.00M642.51 411.80h2.00M643.17 420.58h2.00M643.84 411.80h2.00M644.50 409.80h2.00M645.16 436.80h2.00M645.83 413.88h2.00M646.49 430.88h2.00M647.15 418.26h2.00M647.81 411.80h2.00M648.48 420.58h2.00M649.14 402.40h2.00M649.80 399.02h2.00M650.46 433.77h2.00M651.13 433.77h2.00M651.79 420.58h2.00M652.45 422.99h2.00M653.11 418.26h2.00M653.78 416.03h2.00M654.44 433.77h2.00M655.10 418.26h2.00M655.76 459.23h2.00M656.43 425.51h2.00M657.09 413.88h2.00M657.75 422.99h2.00M658.41 418.26h2.00M659.08 430.88h2.00M659.74 413.88h2.00M660.40 416.03h2.00M661.06 433.77h2.00M661.73 409.80h2.00M662.39 413.88h2.00M663.05 446.96h2.00M663.72 430.88h2.00M664.38 418.26h2.00M665.04 411.80h2.00M665.70 430.88h2.00M666.37 416.03h2.00M667.03 411.80h2.00M667.69 404.17h2.00M668.35 404.17h2.00M669.02 446.96h2.00M669.68 433.77h2.00M670.34 409.80h2.00M671.00 430.88h2.00M671.67 422.99h2.00M672.33 446.96h2.00M672.99 443.37h2.00M673.65 413.88h2.00M674.32 446.96h2.00M674.98 422.99h2.00M675.64 418.26h2.00M676.30 413.88h2.00M676.97 413.88h2.00M677.63 425.51h2.00M678.29 446.96h2.00M678.96 420.58h2.00M679.62 422.99h2.00M680.28 439.99h2.00M680.94 405.99h2.00M681.61 425.51h2.00M682.27 422.99h2.00M682.93 416.03h2.00M683.59 430.88h2.00M684.26 436.80h2.00M684.92 430.88h2.00M685.58 433.77h2.00M686.24 433.77h2.00M686.91 420.58h2.00M687.57 436.80h2.00M688.23 436.80h2.00M688.89 418.26h2.00M689.56 420.58h2.00M690.22 425.51h2.00M690.88 425.51h2.00M691.54 433.77h2.00M692.21 439.99h2.00M692.87 409.80h2.00M693.53 428.13h2.00M694.19 418.26h2.00M694.86 420.58h2.00M695.52 418.26h2.00M696.18 439.99h2.00M696.85 446.96h2.00M697.51 428.13h2.00M698.17 394.29h2.00M698.83 433.77h2.00M699.50 428.13h2.00M700.16 420.58h2.00M700.82 433.77h2.00M701.48 433.77h2.00M702.15 439.99h2.00M702.81 411.80h2.00M703.47 446.96h2.00M704.13 433.77h2.00M704.80 430.88h2.00M705.46 418.26h2.00M706.12 422.99h2.00M706.78 428.13h2.00M707.45 436.80h2.00M708.11 446.96h2.00M708.77 428.13h2.00M709.43 439.99h2.00M710.10 425.51h2.00M710.76 422.99h2.00M711.42 433.77h2.00M712.09 443.37h2.00M712.75 425.51h2.00M713.41 443.37h2.00M714.07 420.58h2.00M714.74 436.80h2.00M715.40 422.99h2.00M716.06 430.88h2.00M716.72 428.13h2.00M717.39 443.37h2.00M718.05 409.80h2.00M718.71 443.37h2.00M719.37 446.96h2.00M720.04 433.77h2.00M720.70 428.13h2.00M721.36 443.37h2.00M722.02 425.51h2.00M722.69 420.58h2.00M723.35 416.03h2.00M724.01 446.96h2.00M724.67 416.03h2.00M725.34 411.80h2.00M726.00 443.37h2.00M726.66 436.80h2.00M727.32 407.86h2.00M727.99 413.88h2.00M728.65 463.96h2.00M729.31 418.26h2.00M729.98 436.80h2.00M730.64 430.88h2.00M731.30 425.51h2.00M731.96 430.88h2.00M732.63 411.80h2.00M733.29 436.80h2.00M733.95 430.88h2.00M734.61 422.99h2.00M735.28 420.58h2.00M735.94 436.80h2.00M736.60 428.13h2.00M737.26 416.03h2.00M737.93 433.77h2.00M738.59 428.13h2.00M739.25 428.13h2.00M739.91 411.80h2.00M740.58 418.26h2.00M741.24 428.13h2.00M741.90 439.99h2.00M742.56 446.96h2.00M743.23 430.88h2.00M743.89 425.51h2.00M744.55 430.88h2.00M745.22 425.51h2.00M745.88 422.99h2.00M746.54 425.51h2.00M747.20 422.99h2.00M747.87 430.88h2.00M748.53 439.99h2.00M749.19 422.99h2.00M749.85 411.80h2.00M750.52 402.40h2.00M751.18 425.51h2.00M751.84 454.85h2.00M752.50 418.26h2.00M753.17 409.80h2.00M753.83 433.77h2.00M754.49 428.13h2.00M755.15 443.37h2.00M755.82 459.23h2.00M756.48 402.40h2.00M757.14 409.80h2.00M757.80 446.96h2.00M758.47 428.13h2.00M759.13 418.26h2.00M759.79 439.99h2.00M760.45 405.99h2.00M761.12 418.26h2.00M761.78 450.77h2.00M762.44 430.88h2.00M763.11 428.13h2.00M763.77 420.58h2.00M764.43 450.77h2.00M765.09 430.88h2.00M765.76 430.88h2.00M766.42 450.77h2.00M767.08 420.58h2.00M767.74 413.88h2.00" stroke="#cc1a1a" stroke-width="2.00" fill="none"/>
<path d="M114.76 514.29V544.20M115.42 416.88V449.26M116.08 420.79V454.46M116.75 357.46V375.85M117.41 341.53V357.42M118.07 296.42V307.02M118.73 257.58V265.11M119.40 227.17V232.95M120.06 206.50V211.33M120.72 186.59V190.67M121.38 163.41V166.74M122.05 142.45V145.24M122.71 126.41V128.84M123.37 108.95V111.04M124.03 95.92V97.80M124.70 85.48V87.20M125.36 75.44V77.01M126.02 67.64V69.11M126.68 58.58V59.94M127.35 53.77V55.08M128.01 49.36V50.62M128.67 46.24V47.47M129.33 42.80V43.99M130.00 39.76V40.92M130.66 39.23V40.39M131.32 39.33V40.49M131.98 40.32V41.48M132.65 41.79V42.97M133.31 42.94V44.14M133.97 46.37V47.60M134.64 49.92V51.18M135.30 52.63V53.92M135.96 57.23V58.57M136.62 61.17V62.56M137.29 67.76V69.23M137.95 72.82V74.36M138.61 78.75V80.37M139.27 83.31V84.99M139.94 88.79V90.56M140.60 97.52V99.42M141.26 105.21V107.24M141.92 114.39V116.58M142.59 126.74V129.17M143.25 134.88V137.49M143.91 146.62V149.51M144.57 156.13V159.26M145.24 164.48V167.85M145.90 177.20V180.95M146.56 182.60V186.53M147.22 190.88V195.10M147.89 196.23V200.65M148.55 208.26V213.17M149.21 218.00V223.34M149.88 222.79V228.35M150.54 233.57V239.68M151.20 246.99V253.86M151.86 258.04V265.61M152.53 262.92V270.82M153.19 273.81V282.49M153.85 277.29V286.24M154.51 289.18V299.12M155.18 294.19V304.59M155.84 303.65V314.96M156.50 318.85V331.80M157.16 315.60V328.18M157.83 325.97V339.77M158.49 345.65V362.15M159.15 332.37V346.99M159.81 360.15V379.00M160.48 334.09V348.94M161.14 352.44V370.00M161.80 356.17V374.34M162.46 343.55V359.74M163.13 364.44V384.05M163.79 360.15V379.00M164.45 372.40V393.52M165.11 356.17V374.34M165.78 343.55V359.74M166.44 351.25V368.62M167.10 351.25V368.62M167.77 342.53V358.57M168.43 348.94V365.95M169.09 360.15V379.00M169.75 342.53V358.57M170.42 334.97V349.94M171.08 354.90V372.85M171.74 354.90V372.85M172.40 352.44V370.00M173.07 351.25V368.62M173.73 347.82V364.65M174.39 351.25V368.62M175.05 348.94V365.95M175.72 350.08V367.27M176.38 374.13V395.60M177.04 357.46V375.85M177.70 344.59V360.93M178.37 347.82V364.65M179.03 344.59V360.93M179.69 364.44V384.05M180.35 347.82V364.65M181.02 343.55V359.74M181.68 361.55V380.64M182.34 350.08V367.27M183.01 350.08V367.27M183.67 348.94V365.95M184.33 344.59V360.93M184.99 357.46V375.85M185.66 367.49V387.67M186.32 340.54V356.29M186.98 356.17V374.34M187.64 364.44V384.05M188.31 347.82V364.65M188.97 352.44V370.00M189.63 345.65V362.15M190.29 353.65V371.41M190.96 338.62V354.10M191.62 352.44V370.00M192.28 348.94V365.95M192.94 346.72V363.39M193.61 364.44V384.05M194.27 346.72V363.39M194.93 354.90V372.85M195.59 354.90V372.85M196.26 352.44V370.00M196.92 361.55V380.64M197.58 357.46V375.85M198.24 343.55V359.74M198.91 342.53V358.57M199.57 351.25V368.62M200.23 365.95V385.83M200.90 350.08V367.27M201.56 369.08V389.56M202.22 339.58V355.19M202.88 353.65V371.41M203.55 342.53V358.57M204.21 348.94V365.95M204.87 344.59V360.93M205.53 377.77V399.98M206.20 364.44V384.05M206.86 364.44V384.05M207.52 351.25V368.62M208.18 362.98V382.32M208.85 353.65V371.41M209.51 358.79V377.41M210.17 351.25V368.62M210.83 352.44V370.00M211.50 354.90V372.85M212.16 381.66V404.70M212.82 347.82V364.65M213.48 364.44V384.05M214.15 360.15V379.00M214.81 357.46V375.85M215.47 352.44V370.00M216.14 348.94V365.95M216.80 375.92V397.75M217.46 369.08V389.56M218.12 350.08V367.27M218.79 352.44V370.00M219.45 346.72V363.39M220.11 354.90V372.85M220.77 348.94V365.95M221.44 357.46V375.85M222.10 345.65V362.15M222.76 358.79V377.41M223.42 357.46V375.85M224.09 346.72V363.39M224.75 354.90V372.85M225.41 365.95V385.83M226.07 342.53V358.57M226.74 360.15V379.00M227.40 357.46V375.85M228.06 370.71V391.51M228.72 354.90V372.85M229.39 360.15V379.00M230.05 347.82V364.65M230.71 351.25V368.62M231.37 341.53V357.42M232.04 358.79V377.41M232.70 370.71V391.51M233.36 344.59V360.93M234.03 358.79V377.41M234.69 348.94V365.95M235.35 357.46V375.85M236.01 383.71V407.20M236.68 358.79V377.41M237.34 360.15V379.00M238.00 340.54V356.29M238.66 352.44V370.00M239.33 351.25V368.62M239.99 348.94V365.95M240.65 357.46V375.85M241.31 348.94V365.95M241.98 356.17V374.34M242.64 357.46V375.85M243.30 352.44V370.00M243.96 358.79V377.41M244.63 356.17V374.34M245.29 351.25V368.62M245.95 365.95V385.83M246.61 360.15V379.00M247.28 356.17V374.34M247.94 374.13V395.60M248.60 364.44V384.05M249.27 345.65V362.15M249.93 350.08V367.27M250.59 350.08V367.27M251.25 353.65V371.41M251.92 353.65V371.41M252.58 369.08V389.56M253.24 353.65V371.41M253.90 356.17V374.34M254.57 356.17V374.34M255.23 347.82V364.65M255.89 345.65V362.15M256.55 352.44V370.00M257.22 369.08V389.56M257.88 353.65V371.41M258.54 358.79V377.41M259.20 348.94V365.95M259.87 350.08V367.27M260.53 357.46V375.85M261.19 353.65V371.41M261.85 353.65V371.41M262.52 361.55V380.64M263.18 346.72V363.39M263.84 362.98V382.32M264.50 369.08V389.56M265.17 362.98V382.32M265.83 352.44V370.00M266.49 353.65V371.41M267.16 351.25V368.62M267.82 351.25V368.62M268.48 348.94V365.95M269.14 344.59V360.93M269.81 351.25V368.62M270.47 350.08V367.27M271.13 358.79V377.41M271.79 358.79V377.41M272.46 364.44V384.05M273.12 347.82V364.65M273.78 348.94V365.95M274.44 352.44V370.00M275.11 357.46V375.85M275.77 354.90V372.85M276.43 385.83V409.80M277.09 354.90V372.85M277.76 358.79V377.41M278.42 344.59V360.93M279.08 347.82V364.65M279.74 348.94V365.95M280.41 343.55V359.74M281.07 352.44V370.00M281.73 357.46V375.85M282.40 350.08V367.27M283.06 360.15V379.00M283.72 341.53V357.42M284.38 356.17V374.34M285.05 354.90V372.85M285.71 347.82V364.65M286.37 344.59V360.93M287.03 374.13V395.60M287.70 356.17V374.34M288.36 356.17V374.34M289.02 348.94V365.95M289.68 348.94V365.95M290.35 342.53V358.57M291.01 343.55V359.74M291.67 335.86V350.95M292.33 342.53V358.57M293.00 347.82V364.65M293.66 340.54V356.29M294.32 348.94V365.95M294.98 354.90V372.85M295.65 354.90V372.85M296.31 353.65V371.41M296.97 357.46V375.85M297.63 342.53V358.57M298.30 348.94V365.95M298.96 344.59V360.93M299.62 352.44V370.00M300.29 351.25V368.62M300.95 362.98V382.32M301.61 351.25V368.62M302.27 350.08V367.27M302.94 337.69V353.03M303.60 351.25V368.62M304.26 357.46V375.85M304.92 348.94V365.95M305.59 358.79V377.41M306.25 342.53V358.57M306.91 357.46V375.85M307.57 334.97V349.94M308.24 346.72V363.39M308.90 340.54V356.29M309.56 329.88V344.18M310.22 344.59V360.93M310.89 360.15V379.00M311.55 341.53V357.42M312.21 348.94V365.95M312.87 337.69V353.03M313.54 347.82V364.65M314.20 346.72V363.39M314.86 340.54V356.29M315.53 345.65V362.15M316.19 343.55V359.74M316.85 352.44V370.00M317.51 340.54V356.29M318.18 334.97V349.94M318.84 333.22V347.96M319.50 334.09V348.94M320.16 339.58V355.19M320.83 331.53V346.04M321.49 344.59V360.93M322.15 341.53V357.42M322.81 334.97V349.94M323.48 334.09V348.94M324.14 338.62V354.10M324.80 344.59V360.93M325.46 341.53V357.42M326.13 327.50V341.50M326.79 346.72V363.39M327.45 330.70V345.11M328.11 332.37V346.99M328.78 330.70V345.11M329.44 330.70V345.11M330.10 343.55V359.74M330.76 341.53V357.42M331.43 351.25V368.62M332.09 324.47V338.09M332.75 345.65V362.15M333.42 337.69V353.03M334.08 337.69V353.03M334.74 331.53V346.04M335.40 334.09V348.94M336.07 327.50V341.50M336.73 333.22V347.96M337.39 327.50V341.50M338.05 332.37V346.99M338.72 337.69V353.03M339.38 319.53V332.56M340.04 323.74V337.27M340.70 324.47V338.09M341.37 336.77V351.98M342.03 323.02V336.46M342.69 325.22V338.93M343.35 336.77V351.98M344.02 328.29V342.38M344.68 329.08V343.28M345.34 324.47V338.09M346.00 315.60V328.18M346.67 323.74V337.27M347.33 324.47V338.09M347.99 318.85V331.80M348.66 327.50V341.50M349.32 329.08V343.28M349.98 318.85V331.80M350.64 325.97V339.77M351.31 329.08V343.28M351.97 310.75V322.80M352.63 319.53V332.56M353.29 308.48V320.28M353.96 316.24V328.89M354.62 318.19V331.06M355.28 329.08V343.28M355.94 315.60V328.18M356.61 314.35V326.79M357.27 313.13V325.43M357.93 316.88V329.60M358.59 318.85V331.80M359.26 320.21V333.32M359.92 310.75V322.80M360.58 323.02V336.46M361.24 312.53V324.76M361.91 302.63V313.84M362.57 323.02V336.46M363.23 309.04V320.90M363.89 303.65V314.96M364.56 315.60V328.18M365.22 307.92V319.66M365.88 310.18V322.16M366.55 308.48V320.28M367.21 305.22V316.68M367.87 307.37V319.05M368.53 311.34V323.45M369.20 300.65V311.66M369.86 312.53V324.76M370.52 308.48V320.28M371.18 311.93V324.10M371.85 306.82V318.45M372.51 306.28V317.86M373.17 305.22V316.68M373.83 301.14V312.20M374.50 304.17V315.53M375.16 299.68V310.60M375.82 298.73V309.55M376.48 303.14V314.40M377.15 298.26V309.04M377.81 303.65V314.96M378.47 297.33V308.02M379.13 292.90V303.18M379.80 298.73V309.55M380.46 297.33V308.02M381.12 291.63V301.79M381.79 299.20V310.07M382.45 287.21V296.99M383.11 294.19V304.59M383.77 295.52V306.03M384.44 294.63V305.07M385.10 285.31V294.92M385.76 283.83V293.32M386.42 292.90V303.18M387.09 292.47V302.71M387.75 288.39V298.26M388.41 283.47V292.92M389.07 287.60V297.41M389.74 280.30V289.49M390.40 282.04V291.37M391.06 277.29V286.24M391.72 282.75V292.14M392.39 278.27V287.30M393.05 276.96V285.89M393.71 276.64V285.54M394.37 280.30V289.49M395.04 280.99V290.24M395.70 267.42V275.63M396.36 270.82V279.27M397.02 269.09V277.42M397.69 266.60V274.75M398.35 280.64V289.86M399.01 267.14V275.34M399.68 264.21V272.19M400.34 266.60V274.75M401.00 264.21V272.19M401.66 261.66V269.47M402.33 262.16V270.01M402.99 259.23V266.87M403.65 259.95V267.64M404.31 255.75V263.16M404.98 258.28V265.86M405.64 255.30V262.69M406.30 253.76V261.04M406.96 250.59V257.67M407.63 252.47V259.67M408.29 251.63V258.78M408.95 247.38V254.27M409.61 244.72V251.45M410.28 249.97V257.02M410.94 244.90V251.65M411.60 243.61V250.28M412.26 244.53V251.25M412.93 242.52V249.13M413.59 236.89V243.18M414.25 241.46V248.00M414.92 243.79V250.47M415.58 238.21V244.57M416.24 230.72V236.68M416.90 236.89V243.18M417.57 230.57V236.52M418.23 234.03V240.17M418.89 228.84V234.71M419.55 234.97V241.15M420.22 230.86V236.83M420.88 230.57V236.52M421.54 227.44V233.24M422.20 218.12V223.47M422.87 222.92V228.49M423.53 222.79V228.35M424.19 221.40V226.90M424.85 225.14V230.82M425.52 219.56V224.97M426.18 211.86V216.92M426.84 213.36V218.49M427.50 214.69V219.87M428.17 208.16V213.07M428.83 208.97V213.90M429.49 202.93V207.62M430.15 205.54V210.33M430.82 203.85V208.57M431.48 202.12V206.77M432.14 198.80V203.32M432.81 201.58V206.21M433.47 197.05V201.50M434.13 197.46V201.93M434.79 191.10V195.33M435.46 191.25V195.49M436.12 189.71V193.89M436.78 187.57V191.67M437.44 185.91V189.96M438.11 181.20V185.09M438.77 179.53V183.36M439.43 178.14V181.93M440.09 175.63V179.34M440.76 174.28V177.94M441.42 171.34V174.91M442.08 170.97V174.53M442.74 168.49V171.97M443.41 166.50V169.93M444.07 165.00V168.39M444.73 163.13V166.46M445.39 160.38V163.63M446.06 157.96V161.15M446.72 156.46V159.60M447.38 154.63V157.73M448.05 152.21V155.24M448.71 154.20V157.28M449.37 152.40V155.44M450.03 150.44V153.42M450.70 145.72V148.59M451.36 143.37V146.18M452.02 145.86V148.73M452.68 145.04V147.89M453.35 142.81V145.60M454.01 137.86V140.54M454.67 137.41V140.08M455.33 134.39V137.00M456.00 134.06V136.65M456.66 131.87V134.42M457.32 130.80V133.32M457.98 130.75V133.27M458.65 129.59V132.08M459.31 126.56V129.00M459.97 126.86V129.30M460.63 123.95V126.33M461.30 122.38V124.73M461.96 121.01V123.33M462.62 121.83V124.17M463.28 118.43V120.70M463.95 118.07V120.33M464.61 116.21V118.44M465.27 114.49V116.68M465.94 113.21V115.38M466.60 111.98V114.13M467.26 110.57V112.69M467.92 109.08V111.17M468.59 109.69V111.79M469.25 108.56V110.65M469.91 107.39V109.46M470.57 109.38V111.47M471.24 107.98V110.04M471.90 107.40V109.44M472.56 106.24V108.25M473.22 107.62V109.64M473.89 105.26V107.24M474.55 106.02V108.00M475.21 105.24V107.20M475.87 106.98V108.96M476.54 105.23V107.17M477.20 105.34V107.28M477.86 105.71V107.64M478.52 104.11V106.01M479.19 104.42V106.32M479.85 104.98V106.88M480.51 104.79V106.68M481.18 105.73V107.63M481.84 105.16V107.04M482.50 108.18V110.10M483.16 107.03V108.93M483.83 107.96V109.86M484.49 108.73V110.65M485.15 109.90V111.82M485.81 109.54V111.45M486.48 109.87V111.77M487.14 108.90V110.79M487.80 112.03V113.96M488.46 112.86V114.79M489.13 113.64V115.58M489.79 114.27V116.22M490.45 114.32V116.26M491.11 117.20V119.18M491.78 117.55V119.53M492.44 118.35V120.34M493.10 119.22V121.21M493.76 120.51V122.52M494.43 122.52V124.56M495.09 125.51V127.60M495.75 127.66V129.77M496.41 128.71V130.83M497.08 130.26V132.41M497.74 136.86V139.13M498.40 138.22V140.50M499.07 138.64V140.92M499.73 140.95V143.27M500.39 144.01V146.38M501.05 144.76V147.14M501.72 149.02V151.48M502.38 151.88V154.40M503.04 150.18V152.66M503.70 154.06V156.61M504.37 159.15V161.80M505.03 161.18V163.88M505.69 163.67V166.41M506.35 165.81V168.60M507.02 171.85V174.78M507.68 174.09V177.06M508.34 173.55V176.51M509.00 181.54V184.69M509.67 181.64V184.78M510.33 186.79V190.07M510.99 189.27V192.61M511.65 195.31V198.82M512.32 194.73V198.21M512.98 198.38V201.96M513.64 205.61V209.41M514.31 207.15V210.99M514.97 210.37V214.30M515.63 213.12V217.14M516.29 217.18V221.33M516.96 221.12V225.40M517.62 229.75V234.35M518.28 229.90V234.49M518.94 234.19V238.94M519.61 239.17V244.12M520.27 240.30V245.28M520.93 241.13V246.13M521.59 244.63V249.78M522.26 254.55V260.14M522.92 252.58V258.06M523.58 259.03V264.81M524.24 260.73V266.58M524.91 268.71V274.97M525.57 269.82V276.12M526.23 274.35V280.89M526.89 284.16V291.26M527.56 285.29V292.44M528.22 283.12V290.12M528.88 290.45V297.89M529.54 295.47V303.22M530.21 294.78V302.47M530.87 300.91V309.01M531.53 306.23V314.68M532.20 304.79V313.12M532.86 305.93V314.32M533.52 307.67V316.17M534.18 321.11V330.66M534.85 323.27V332.98M535.51 321.31V330.82M536.17 329.86V340.10M536.83 335.46V346.19M537.50 336.20V346.97M538.16 336.94V347.76M538.82 343.17V354.59M539.48 358.96V372.07M540.15 347.50V359.30M540.81 360.19V373.38M541.47 362.58V376.02M542.13 365.80V379.60M542.80 363.11V376.55M543.46 376.22V391.31M544.12 377.39V392.61M544.78 373.25V387.88M545.45 389.91V406.92M546.11 376.83V391.92M546.77 385.56V401.90M547.44 391.05V408.24M548.10 403.95V423.29M548.76 375.06V389.91M549.42 389.91V406.92M550.09 391.05V408.24M550.75 379.59V395.07M551.41 399.76V418.38M552.07 388.79V405.62M552.74 395.87V413.83M553.40 394.62V412.38M554.06 387.69V404.36M554.72 389.91V406.92M555.39 383.50V399.54M556.05 378.66V394.00M556.71 397.14V415.31M557.37 391.05V408.24M558.04 391.05V408.24M558.70 406.92V426.80M559.36 394.62V412.38M560.02 392.22V409.59M560.69 391.05V408.24M561.35 416.89V438.72M562.01 401.12V419.97M562.67 388.79V405.62M563.34 386.62V403.12M564.00 406.92V426.80M564.66 394.62V412.38M565.33 402.52V421.61M565.99 393.41V410.97M566.65 410.05V430.53M567.31 392.22V409.59M567.98 398.43V416.82M568.64 388.79V405.62M569.30 388.79V405.62M569.96 401.12V419.97M570.63 403.95V423.29M571.29 398.43V416.82M571.95 406.92V426.80M572.61 391.05V408.24M573.28 389.91V406.92M573.94 397.14V415.31M574.60 410.05V430.53M575.26 393.41V410.97M575.93 395.87V413.83M576.59 405.41V425.02M577.25 405.41V425.02M577.91 398.43V416.82M578.58 386.62V403.12M579.24 410.05V430.53M579.90 410.05V430.53M580.57 405.41V425.02M581.23 391.05V408.24M581.89 394.62V412.38M582.55 395.87V413.83M583.22 388.79V405.62M583.88 399.76V418.38M584.54 387.69V404.36M585.20 388.79V405.62M585.87 388.79V405.62M586.53 397.14V415.31M587.19 391.05V408.24M587.85 397.14V415.31M588.52 405.41V425.02M589.18 398.43V416.82M589.84 391.05V408.24M590.50 401.12V419.97M591.17 393.41V410.97M591.83 403.95V423.29M592.49 388.79V405.62M593.15 393.41V410.97M593.82 403.95V423.29M594.48 398.43V416.82M595.14 380.55V396.16M595.80 398.43V416.82M596.47 405.41V425.02M597.13 394.62V412.38M597.79 386.62V403.12M598.46 398.43V416.82M599.12 392.22V409.59M599.78 394.62V412.38M600.44 391.05V408.24M601.11 393.41V410.97M601.77 403.95V423.29M602.43 385.56V401.90M603.09 378.66V394.00M603.76 393.41V410.97M604.42 397.14V415.31M605.08 382.50V398.39M605.74 394.62V412.38M606.41 411.68V432.48M607.07 397.14V415.31M607.73 387.69V404.36M608.39 393.41V410.97M609.06 401.12V419.97M609.72 420.65V443.26M610.38 395.87V413.83M611.04 394.62V412.38M611.71 411.68V432.48M612.37 401.12V419.97M613.03 401.12V419.97M613.70 391.05V408.24M614.36 418.74V440.95M615.02 401.12V419.97M615.68 394.62V412.38M616.35 384.52V400.71M617.01 408.46V428.64M617.67 402.52V421.61M618.33 394.62V412.38M619.00 415.10V436.57M619.66 411.68V432.48M620.32 408.46V428.64M620.98 403.95V423.29M621.65 394.62V412.38M622.31 398.43V416.82M622.97 392.22V409.59M623.63 403.95V423.29M624.30 394.62V412.38M624.96 397.14V415.31M625.62 394.62V412.38M626.28 379.59V395.07M626.95 395.87V413.83M627.61 402.52V421.61M628.27 394.62V412.38M628.93 395.87V413.83M629.60 411.68V432.48M630.26 410.05V430.53M630.92 405.41V425.02M631.59 411.68V432.48M632.25 403.95V423.29M632.91 394.62V412.38M633.57 410.05V430.53M634.24 399.76V418.38M634.90 405.41V425.02M635.56 413.37V434.49M636.22 391.05V408.24M636.89 416.89V438.72M637.55 395.87V413.83M638.21 403.95V423.29M638.87 399.76V418.38M639.54 424.68V448.17M640.20 399.76V418.38M640.86 424.68V448.17M641.52 386.62V403.12M642.19 399.76V418.38M642.85 411.68V432.48M643.51 398.43V416.82M644.17 406.92V426.80M644.84 406.92V426.80M645.50 413.37V434.49M646.16 402.52V421.61M646.83 397.14V415.31M647.49 402.52V421.61M648.15 411.68V432.48M648.81 395.87V413.83M649.48 405.41V425.02M650.14 431.31V456.33M650.80 410.05V430.53M651.46 426.80V450.77M652.13 406.92V426.80M652.79 410.05V430.53M653.45 403.95V423.29M654.11 403.95V423.29M654.78 413.37V434.49M655.44 415.10V436.57M656.10 402.52V421.61M656.76 405.41V425.02M657.43 402.52V421.61M658.09 408.46V428.64M658.75 399.76V418.38M659.41 422.63V445.67M660.08 420.65V443.26M660.74 402.52V421.61M661.40 411.68V432.48M662.06 405.41V425.02M662.73 420.65V443.26M663.39 397.14V415.31M664.05 433.71V459.31M664.72 418.74V440.95M665.38 408.46V428.64M666.04 410.05V430.53M666.70 408.46V428.64M667.37 413.37V434.49M668.03 424.68V448.17M668.69 413.37V434.49M669.35 415.10V436.57M670.02 416.89V438.72M670.68 415.10V436.57M671.34 418.74V440.95M672.00 411.68V432.48M672.67 410.05V430.53M673.33 410.05V430.53M673.99 410.05V430.53M674.65 398.43V416.82M675.32 413.37V434.49M675.98 406.92V426.80M676.64 415.10V436.57M677.30 422.63V445.67M677.97 415.10V436.57M678.63 415.10V436.57M679.29 402.52V421.61M679.96 420.65V443.26M680.62 403.95V423.29M681.28 391.05V408.24M681.94 429.01V453.49M682.61 415.10V436.57M683.27 416.89V438.72M683.93 411.68V432.48M684.59 426.80V450.77M685.26 413.37V434.49M685.92 422.63V445.67M686.58 424.68V448.17M687.24 424.68V448.17M687.91 408.46V428.64M688.57 426.80V450.77M689.23 418.74V440.95M689.89 411.68V432.48M690.56 408.46V428.64M691.22 431.31V456.33M691.88 416.89V438.72M692.54 429.01V453.49M693.21 411.68V432.48M693.87 429.01V453.49M694.53 405.41V425.02M695.19 415.10V436.57M695.86 415.10V436.57M696.52 426.80V450.77M697.18 424.68V448.17M697.85 433.71V459.31M698.51 416.89V438.72M699.17 420.65V443.26M699.83 438.84V465.73M700.50 416.89V438.72M701.16 420.65V443.26M701.82 426.80V450.77M702.48 413.37V434.49M703.15 416.89V438.72M703.81 433.71V459.31M704.47 395.87V413.83M705.13 418.74V440.95M705.80 418.74V440.95M706.46 436.22V462.44M707.12 416.89V438.72M707.78 426.80V450.77M708.45 420.65V443.26M709.11 418.74V440.95M709.77 410.05V430.53M710.43 431.31V456.33M711.10 420.65V443.26M711.76 420.65V443.26M712.42 433.71V459.31M713.09 420.65V443.26M713.75 424.68V448.17M714.41 418.74V440.95M715.07 398.43V416.82M715.74 416.89V438.72M716.40 424.68V448.17M717.06 424.68V448.17M717.72 429.01V453.49M718.39 422.63V445.67M719.05 406.92V426.80M719.71 429.01V453.49M720.37 416.89V438.72M721.04 410.05V430.53M721.70 418.74V440.95M722.36 418.74V440.95M723.02 406.92V426.80M723.69 422.63V445.67M724.35 406.92V426.80M725.01 410.05V430.53M725.67 411.68V432.48M726.34 416.89V438.72M727.00 420.65V443.26M727.66 410.05V430.53M728.32 418.74V440.95M728.99 450.77V480.96M729.65 415.10V436.57M730.31 447.54V476.80M730.98 441.59V469.21M731.64 433.71V459.31M732.30 416.89V438.72M732.96 411.68V432.48M733.63 433.71V459.31M734.29 457.85V490.23M734.95 406.92V426.80M735.61 441.59V469.21M736.28 433.71V459.31M736.94 403.95V423.29M737.60 415.10V436.57M738.26 424.68V448.17M738.93 418.74V440.95M739.59 415.10V436.57M740.25 406.92V426.80M740.91 420.65V443.26M741.58 402.52V421.61M742.24 457.85V490.23M742.90 433.71V459.31M743.56 420.65V443.26M744.23 418.74V440.95M744.89 416.89V438.72M745.55 406.92V426.80M746.22 444.49V472.89M746.88 441.59V469.21M747.54 408.46V428.64M748.20 413.37V434.49M748.87 422.63V445.67M749.53 401.12V419.97M750.19 431.31V456.33M750.85 420.65V443.26M751.52 420.65V443.26M752.18 415.10V436.57M752.84 408.46V428.64M753.50 438.84V465.73M754.17 406.92V426.80M754.83 416.89V438.72M755.49 411.68V432.48M756.15 406.92V426.80M756.82 410.05V430.53M757.48 415.10V436.57M758.14 399.76V418.38M758.80 413.37V434.49M759.47 411.68V432.48M760.13 424.68V448.17M760.79 418.74V440.95M761.45 418.74V440.95M762.12 410.05V430.53M762.78 406.92V426.80M763.44 411.68V432.48M764.11 408.46V428.64M764.77 420.65V443.26M765.43 403.95V423.29M766.09 424.68V448.17M766.76 416.89V438.72M767.42 426.80V450.77M768.08 422.63V445.67M768.74 424.68V448.17" stroke="#0000ff" stroke-width="1.60" fill="none"/><path d="M114.42 430.88h2.00M115.08 435.26h2.00M115.75 365.95h2.00M116.41 348.94h2.00M117.07 301.48h2.00M117.73 261.22h2.00M118.40 229.99h2.00M119.06 208.86h2.00M119.72 188.59h2.00M120.38 165.05h2.00M121.05 143.83h2.00M121.71 127.62h2.00M122.37 109.99h2.00M123.03 96.85h2.00M123.70 86.34h2.00M124.36 76.22h2.00M125.02 68.37h2.00M125.68 59.25h2.00M126.35 54.42h2.00M127.01 49.99h2.00M127.67 46.86h2.00M128.33 43.39h2.00M129.00 40.34h2.00M129.66 39.81h2.00M130.32 39.91h2.00M130.98 40.90h2.00M131.65 42.38h2.00M132.31 43.54h2.00M132.97 46.98h2.00M133.64 50.55h2.00M134.30 53.27h2.00M134.96 57.90h2.00M135.62 61.86h2.00M136.29 68.49h2.00M136.95 73.59h2.00M137.61 79.55h2.00M138.27 84.14h2.00M138.94 89.67h2.00M139.60 98.46h2.00M140.26 106.22h2.00M140.92 115.47h2.00M141.59 127.94h2.00M142.25 136.17h2.00M142.91 148.05h2.00M143.57 157.68h2.00M144.24 166.14h2.00M144.90 179.04h2.00M145.56 184.54h2.00M146.22 192.95h2.00M146.89 198.40h2.00M147.55 210.67h2.00M148.21 220.61h2.00M148.88 225.51h2.00M149.54 236.54h2.00M150.20 250.33h2.00M150.86 261.70h2.00M151.53 266.74h2.00M152.19 277.99h2.00M152.85 281.59h2.00M153.51 293.94h2.00M154.18 299.16h2.00M154.84 309.04h2.00M155.50 324.98h2.00M156.16 321.56h2.00M156.83 332.47h2.00M157.49 353.32h2.00M158.15 339.23h2.00M158.81 368.83h2.00M159.48 341.05h2.00M160.14 360.57h2.00M160.80 364.56h2.00M161.46 351.09h2.00M162.13 373.44h2.00M162.79 368.83h2.00M163.45 382.02h2.00M164.11 364.56h2.00M164.78 351.09h2.00M165.44 359.30h2.00M166.10 359.30h2.00M166.77 350.01h2.00M167.43 356.83h2.00M168.09 368.83h2.00M168.75 350.01h2.00M169.42 341.98h2.00M170.08 363.20h2.00M170.74 363.20h2.00M171.40 360.57h2.00M172.07 359.30h2.00M172.73 355.64h2.00M173.39 359.30h2.00M174.05 356.83h2.00M174.72 358.05h2.00M175.38 383.90h2.00M176.04 365.95h2.00M176.70 352.20h2.00M177.37 355.64h2.00M178.03 352.20h2.00M178.69 373.44h2.00M179.35 355.64h2.00M180.02 351.09h2.00M180.68 370.33h2.00M181.34 358.05h2.00M182.01 358.05h2.00M182.67 356.83h2.00M183.33 352.20h2.00M183.99 365.95h2.00M184.66 376.72h2.00M185.32 347.90h2.00M185.98 364.56h2.00M186.64 373.44h2.00M187.31 355.64h2.00M187.97 360.57h2.00M188.63 353.32h2.00M189.29 361.87h2.00M189.96 345.86h2.00M190.62 360.57h2.00M191.28 356.83h2.00M191.94 354.47h2.00M192.61 373.44h2.00M193.27 354.47h2.00M193.93 363.20h2.00M194.59 363.20h2.00M195.26 360.57h2.00M195.92 370.33h2.00M196.58 365.95h2.00M197.24 351.09h2.00M197.91 350.01h2.00M198.57 359.30h2.00M199.23 375.06h2.00M199.90 358.05h2.00M200.56 378.44h2.00M201.22 346.87h2.00M201.88 361.87h2.00M202.55 350.01h2.00M203.21 356.83h2.00M203.87 352.20h2.00M204.53 387.84h2.00M205.20 373.44h2.00M205.86 373.44h2.00M206.52 359.30h2.00M207.18 371.86h2.00M207.85 361.87h2.00M208.51 367.37h2.00M209.17 359.30h2.00M209.83 360.57h2.00M210.50 363.20h2.00M211.16 392.06h2.00M211.82 355.64h2.00M212.48 373.44h2.00M213.15 368.83h2.00M213.81 365.95h2.00M214.47 360.57h2.00M215.14 356.83h2.00M215.80 385.83h2.00M216.46 378.44h2.00M217.12 358.05h2.00M217.79 360.57h2.00M218.45 354.47h2.00M219.11 363.20h2.00M219.77 356.83h2.00M220.44 365.95h2.00M221.10 353.32h2.00M221.76 367.37h2.00M222.42 365.95h2.00M223.09 354.47h2.00M223.75 363.20h2.00M224.41 375.06h2.00M225.07 350.01h2.00M225.74 368.83h2.00M226.40 365.95h2.00M227.06 380.20h2.00M227.72 363.20h2.00M228.39 368.83h2.00M229.05 355.64h2.00M229.71 359.30h2.00M230.37 348.94h2.00M231.04 367.37h2.00M231.70 380.20h2.00M232.36 352.20h2.00M233.03 367.37h2.00M233.69 356.83h2.00M234.35 365.95h2.00M235.01 394.29h2.00M235.68 367.37h2.00M236.34 368.83h2.00M237.00 347.90h2.00M237.66 360.57h2.00M238.33 359.30h2.00M238.99 356.83h2.00M239.65 365.95h2.00M240.31 356.83h2.00M240.98 364.56h2.00M241.64 365.95h2.00M242.30 360.57h2.00M242.96 367.37h2.00M243.63 364.56h2.00M244.29 359.30h2.00M244.95 375.06h2.00M245.61 368.83h2.00M246.28 364.56h2.00M246.94 383.90h2.00M247.60 373.44h2.00M248.27 353.32h2.00M248.93 358.05h2.00M249.59 358.05h2.00M250.25 361.87h2.00M250.92 361.87h2.00M251.58 378.44h2.00M252.24 361.87h2.00M252.90 364.56h2.00M253.57 364.56h2.00M254.23 355.64h2.00M254.89 353.32h2.00M255.55 360.57h2.00M256.22 378.44h2.00M256.88 361.87h2.00M257.54 367.37h2.00M258.20 356.83h2.00M258.87 358.05h2.00M259.53 365.95h2.00M260.19 361.87h2.00M260.85 361.87h2.00M261.52 370.33h2.00M262.18 354.47h2.00M262.84 371.86h2.00M263.50 378.44h2.00M264.17 371.86h2.00M264.83 360.57h2.00M265.49 361.87h2.00M266.16 359.30h2.00M266.82 359.30h2.00M267.48 356.83h2.00M268.14 352.20h2.00M268.81 359.30h2.00M269.47 358.05h2.00M270.13 367.37h2.00M270.79 367.37h2.00M271.46 373.44h2.00M272.12 355.64h2.00M272.78 356.83h2.00M273.44 360.57h2.00M274.11 365.95h2.00M274.77 363.20h2.00M275.43 396.61h2.00M276.09 363.20h2.00M276.76 367.37h2.00M277.42 352.20h2.00M278.08 355.64h2.00M278.74 356.83h2.00M279.41 351.09h2.00M280.07 360.57h2.00M280.73 365.95h2.00M281.40 358.05h2.00M282.06 368.83h2.00M282.72 348.94h2.00M283.38 364.56h2.00M284.05 363.20h2.00M284.71 355.64h2.00M285.37 352.20h2.00M286.03 383.90h2.00M286.70 364.56h2.00M287.36 364.56h2.00M288.02 356.83h2.00M288.68 356.83h2.00M289.35 350.01h2.00M290.01 351.09h2.00M290.67 342.93h2.00M291.33 350.01h2.00M292.00 355.64h2.00M292.66 347.90h2.00M293.32 356.83h2.00M293.98 363.20h2.00M294.65 363.20h2.00M295.31 361.87h2.00M295.97 365.95h2.00M296.63 350.01h2.00M297.30 356.83h2.00M297.96 352.20h2.00M298.62 360.57h2.00M299.29 359.30h2.00M299.95 371.86h2.00M300.61 359.30h2.00M301.27 358.05h2.00M301.94 344.86h2.00M302.60 359.30h2.00M303.26 365.95h2.00M303.92 356.83h2.00M304.59 367.37h2.00M305.25 350.01h2.00M305.91 365.95h2.00M306.57 341.98h2.00M307.24 354.47h2.00M307.90 347.90h2.00M308.56 336.60h2.00M309.22 352.20h2.00M309.89 368.83h2.00M310.55 348.94h2.00M311.21 356.83h2.00M311.87 344.86h2.00M312.54 355.64h2.00M313.20 354.47h2.00M313.86 347.90h2.00M314.53 353.32h2.00M315.19 351.09h2.00M315.85 360.57h2.00M316.51 347.90h2.00M317.18 341.98h2.00M317.84 340.13h2.00M318.50 341.05h2.00M319.16 346.87h2.00M319.83 338.34h2.00M320.49 352.20h2.00M321.15 348.94h2.00M321.81 341.98h2.00M322.48 341.05h2.00M323.14 345.86h2.00M323.80 352.20h2.00M324.46 348.94h2.00M325.13 334.09h2.00M325.79 354.47h2.00M326.45 337.47h2.00M327.11 339.23h2.00M327.78 337.47h2.00M328.44 337.47h2.00M329.10 351.09h2.00M329.76 348.94h2.00M330.43 359.30h2.00M331.09 330.89h2.00M331.75 353.32h2.00M332.42 344.86h2.00M333.08 344.86h2.00M333.74 338.34h2.00M334.40 341.05h2.00M335.07 334.09h2.00M335.73 340.13h2.00M336.39 334.09h2.00M337.05 339.23h2.00M337.72 344.86h2.00M338.38 325.68h2.00M339.04 330.12h2.00M339.70 330.89h2.00M340.37 343.89h2.00M341.03 329.36h2.00M341.69 331.67h2.00M342.35 343.89h2.00M343.02 334.91h2.00M343.68 335.75h2.00M344.34 330.89h2.00M345.00 321.56h2.00M345.67 330.12h2.00M346.33 330.89h2.00M346.99 324.98h2.00M347.66 334.09h2.00M348.32 335.75h2.00M348.98 324.98h2.00M349.64 332.47h2.00M350.31 335.75h2.00M350.97 316.47h2.00M351.63 325.68h2.00M352.29 314.08h2.00M352.96 322.23h2.00M353.62 324.28h2.00M354.28 335.75h2.00M354.94 321.56h2.00M355.61 320.24h2.00M356.27 318.96h2.00M356.93 322.90h2.00M357.59 324.98h2.00M358.26 326.40h2.00M358.92 316.47h2.00M359.58 329.36h2.00M360.24 318.33h2.00M360.91 307.97h2.00M361.57 329.36h2.00M362.23 314.67h2.00M362.89 309.04h2.00M363.56 321.56h2.00M364.22 313.50h2.00M364.88 315.86h2.00M365.55 314.08h2.00M366.21 310.67h2.00M366.87 312.92h2.00M367.53 317.08h2.00M368.20 305.90h2.00M368.86 318.33h2.00M369.52 314.08h2.00M370.18 317.70h2.00M370.85 312.35h2.00M371.51 311.79h2.00M372.17 310.67h2.00M372.83 306.41h2.00M373.50 309.58h2.00M374.16 304.89h2.00M374.82 303.89h2.00M375.48 308.50h2.00M376.15 303.40h2.00M376.81 309.04h2.00M377.47 302.43h2.00M378.13 297.81h2.00M378.80 303.89h2.00M379.46 302.43h2.00M380.12 296.50h2.00M380.79 304.39h2.00M381.45 291.90h2.00M382.11 299.16h2.00M382.77 300.54h2.00M383.44 299.62h2.00M384.10 289.92h2.00M384.76 288.39h2.00M385.42 297.81h2.00M386.09 297.37h2.00M386.75 293.12h2.00M387.41 288.01h2.00M388.07 292.30h2.00M388.74 284.71h2.00M389.40 286.52h2.00M390.06 281.59h2.00M390.72 287.26h2.00M391.39 282.61h2.00M392.05 281.26h2.00M392.71 280.92h2.00M393.37 284.71h2.00M394.04 285.43h2.00M394.70 271.38h2.00M395.36 274.89h2.00M396.02 273.11h2.00M396.69 270.54h2.00M397.35 285.07h2.00M398.01 271.10h2.00M398.68 268.07h2.00M399.34 270.54h2.00M400.00 268.07h2.00M400.66 265.44h2.00M401.33 265.96h2.00M401.99 262.92h2.00M402.65 263.67h2.00M403.31 259.34h2.00M403.98 261.95h2.00M404.64 258.88h2.00M405.30 257.29h2.00M405.96 254.02h2.00M406.63 255.96h2.00M407.29 255.09h2.00M407.95 250.73h2.00M408.61 247.99h2.00M409.28 253.39h2.00M409.94 248.18h2.00M410.60 246.85h2.00M411.26 247.80h2.00M411.93 245.73h2.00M412.59 239.95h2.00M413.25 244.64h2.00M413.92 247.04h2.00M414.58 241.30h2.00M415.24 233.62h2.00M415.90 239.95h2.00M416.57 233.47h2.00M417.23 237.02h2.00M417.89 231.70h2.00M418.55 237.98h2.00M419.22 233.77h2.00M419.88 233.47h2.00M420.54 230.27h2.00M421.20 220.73h2.00M421.87 225.64h2.00M422.53 225.51h2.00M423.19 224.08h2.00M423.85 227.91h2.00M424.52 222.20h2.00M425.18 214.34h2.00M425.84 215.87h2.00M426.50 217.22h2.00M427.17 210.56h2.00M427.83 211.38h2.00M428.49 205.23h2.00M429.15 207.88h2.00M429.82 206.16h2.00M430.48 204.40h2.00M431.14 201.02h2.00M431.81 203.85h2.00M432.47 199.23h2.00M433.13 199.65h2.00M433.79 193.18h2.00M434.46 193.33h2.00M435.12 191.76h2.00M435.78 189.58h2.00M436.44 187.90h2.00M437.11 183.11h2.00M437.77 181.42h2.00M438.43 180.01h2.00M439.09 177.46h2.00M439.76 176.08h2.00M440.42 173.10h2.00M441.08 172.72h2.00M441.74 170.21h2.00M442.41 168.19h2.00M443.07 166.67h2.00M443.73 164.77h2.00M444.39 161.98h2.00M445.06 159.53h2.00M445.72 158.01h2.00M446.38 156.16h2.00M447.05 153.70h2.00M447.71 155.72h2.00M448.37 153.90h2.00M449.03 151.91h2.00M449.70 147.14h2.00M450.36 144.75h2.00M451.02 147.28h2.00M451.68 146.45h2.00M452.35 144.19h2.00M453.01 139.19h2.00M453.67 138.73h2.00M454.33 135.68h2.00M455.00 135.34h2.00M455.66 133.13h2.00M456.32 132.05h2.00M456.98 131.99h2.00M457.65 130.82h2.00M458.31 127.77h2.00M458.97 128.07h2.00M459.63 125.12h2.00M460.30 123.54h2.00M460.96 122.16h2.00M461.62 122.99h2.00M462.28 119.56h2.00M462.95 119.19h2.00M463.61 117.31h2.00M464.27 115.58h2.00M464.94 114.29h2.00M465.60 113.05h2.00M466.26 111.62h2.00M466.92 110.12h2.00M467.59 110.73h2.00M468.25 109.60h2.00M468.91 108.41h2.00M469.57 110.42h2.00M470.24 109.00h2.00M470.90 108.41h2.00M471.56 107.24h2.00M472.22 108.62h2.00M472.89 106.24h2.00M473.55 107.00h2.00M474.21 106.21h2.00M474.87 107.96h2.00M475.54 106.19h2.00M476.20 106.31h2.00M476.86 106.67h2.00M477.52 105.05h2.00M478.19 105.37h2.00M478.85 105.92h2.00M479.51 105.73h2.00M480.18 106.67h2.00M480.84 106.10h2.00M481.50 109.13h2.00M482.16 107.97h2.00M482.83 108.90h2.00M483.49 109.68h2.00M484.15 110.85h2.00M484.81 110.49h2.00M485.48 110.81h2.00M486.14 109.84h2.00M486.80 112.99h2.00M487.46 113.82h2.00M488.13 114.60h2.00M488.79 115.24h2.00M489.45 115.28h2.00M490.11 118.18h2.00M490.78 118.54h2.00M491.44 119.34h2.00M492.10 120.21h2.00M492.76 121.51h2.00M493.43 123.53h2.00M494.09 126.54h2.00M494.75 128.71h2.00M495.41 129.76h2.00M496.08 131.32h2.00M496.74 137.98h2.00M497.40 139.35h2.00M498.07 139.77h2.00M498.73 142.10h2.00M499.39 145.18h2.00M500.05 145.94h2.00M500.72 150.24h2.00M501.38 153.12h2.00M502.04 151.40h2.00M502.70 155.32h2.00M503.37 160.46h2.00M504.03 162.51h2.00M504.69 165.02h2.00M505.35 167.19h2.00M506.02 173.29h2.00M506.68 175.56h2.00M507.34 175.01h2.00M508.00 183.10h2.00M508.67 183.19h2.00M509.33 188.41h2.00M509.99 190.92h2.00M510.65 197.04h2.00M511.32 196.45h2.00M511.98 200.15h2.00M512.64 207.48h2.00M513.31 209.04h2.00M513.97 212.30h2.00M514.63 215.10h2.00M515.29 219.22h2.00M515.96 223.22h2.00M516.62 232.01h2.00M517.28 232.15h2.00M517.94 236.52h2.00M518.61 241.60h2.00M519.27 242.74h2.00M519.93 243.58h2.00M520.59 247.15h2.00M521.26 257.28h2.00M521.92 255.26h2.00M522.58 261.85h2.00M523.24 263.58h2.00M523.91 271.76h2.00M524.57 272.89h2.00M525.23 277.53h2.00M525.89 287.60h2.00M526.56 288.76h2.00M527.22 286.52h2.00M527.88 294.06h2.00M528.54 299.22h2.00M529.21 298.50h2.00M529.87 304.82h2.00M530.53 310.30h2.00M531.20 308.81h2.00M531.86 309.98h2.00M532.52 311.76h2.00M533.18 325.69h2.00M533.85 327.93h2.00M534.51 325.87h2.00M535.17 334.76h2.00M535.83 340.58h2.00M536.50 341.34h2.00M537.16 342.10h2.00M537.82 348.61h2.00M538.48 365.16h2.00M539.15 353.11h2.00M539.81 366.42h2.00M540.47 368.92h2.00M541.13 372.30h2.00M541.80 369.45h2.00M542.46 383.29h2.00M543.12 384.51h2.00M543.78 380.12h2.00M544.45 397.80h2.00M545.11 383.90h2.00M545.77 393.17h2.00M546.44 399.02h2.00M547.10 412.83h2.00M547.76 382.02h2.00M548.42 397.80h2.00M549.09 399.02h2.00M549.75 386.83h2.00M550.41 408.34h2.00M551.07 396.61h2.00M551.74 404.17h2.00M552.40 402.84h2.00M553.06 395.44h2.00M553.72 397.80h2.00M554.39 390.98h2.00M555.05 385.83h2.00M555.71 405.53h2.00M556.37 399.02h2.00M557.04 399.02h2.00M557.70 416.03h2.00M558.36 402.84h2.00M559.02 400.27h2.00M559.69 399.02h2.00M560.35 426.80h2.00M561.01 409.80h2.00M561.67 396.61h2.00M562.34 394.29h2.00M563.00 416.03h2.00M563.66 402.84h2.00M564.33 411.30h2.00M564.99 401.54h2.00M565.65 419.41h2.00M566.31 400.27h2.00M566.98 406.92h2.00M567.64 396.61h2.00M568.30 396.61h2.00M568.96 409.80h2.00M569.63 412.83h2.00M570.29 406.92h2.00M570.95 416.03h2.00M571.61 399.02h2.00M572.28 397.80h2.00M572.94 405.53h2.00M573.60 419.41h2.00M574.26 401.54h2.00M574.93 404.17h2.00M575.59 414.41h2.00M576.25 414.41h2.00M576.91 406.92h2.00M577.58 394.29h2.00M578.24 419.41h2.00M578.90 419.41h2.00M579.57 414.41h2.00M580.23 399.02h2.00M580.89 402.84h2.00M581.55 404.17h2.00M582.22 396.61h2.00M582.88 408.34h2.00M583.54 395.44h2.00M584.20 396.61h2.00M584.87 396.61h2.00M585.53 405.53h2.00M586.19 399.02h2.00M586.85 405.53h2.00M587.52 414.41h2.00M588.18 406.92h2.00M588.84 399.02h2.00M589.50 409.80h2.00M590.17 401.54h2.00M590.83 412.83h2.00M591.49 396.61h2.00M592.15 401.54h2.00M592.82 412.83h2.00M593.48 406.92h2.00M594.14 387.84h2.00M594.80 406.92h2.00M595.47 414.41h2.00M596.13 402.84h2.00M596.79 394.29h2.00M597.46 406.92h2.00M598.12 400.27h2.00M598.78 402.84h2.00M599.44 399.02h2.00M600.11 401.54h2.00M600.77 412.83h2.00M601.43 393.17h2.00M602.09 385.83h2.00M602.76 401.54h2.00M603.42 405.53h2.00M604.08 389.91h2.00M604.74 402.84h2.00M605.41 421.17h2.00M606.07 405.53h2.00M606.73 395.44h2.00M607.39 401.54h2.00M608.06 409.80h2.00M608.72 430.88h2.00M609.38 404.17h2.00M610.04 402.84h2.00M610.71 421.17h2.00M611.37 409.80h2.00M612.03 409.80h2.00M612.70 399.02h2.00M613.36 428.81h2.00M614.02 409.80h2.00M614.68 402.84h2.00M615.35 392.06h2.00M616.01 417.69h2.00M616.67 411.30h2.00M617.33 402.84h2.00M618.00 424.87h2.00M618.66 421.17h2.00M619.32 417.69h2.00M619.98 412.83h2.00M620.65 402.84h2.00M621.31 406.92h2.00M621.97 400.27h2.00M622.63 412.83h2.00M623.30 402.84h2.00M623.96 405.53h2.00M624.62 402.84h2.00M625.28 386.83h2.00M625.95 404.17h2.00M626.61 411.30h2.00M627.27 402.84h2.00M627.93 404.17h2.00M628.60 421.17h2.00M629.26 419.41h2.00M629.92 414.41h2.00M630.59 421.17h2.00M631.25 412.83h2.00M631.91 402.84h2.00M632.57 419.41h2.00M633.24 408.34h2.00M633.90 414.41h2.00M634.56 422.99h2.00M635.22 399.02h2.00M635.89 426.80h2.00M636.55 404.17h2.00M637.21 412.83h2.00M637.87 408.34h2.00M638.54 435.26h2.00M639.20 408.34h2.00M639.86 435.26h2.00M640.52 394.29h2.00M641.19 408.34h2.00M641.85 421.17h2.00M642.51 406.92h2.00M643.17 416.03h2.00M643.84 416.03h2.00M644.50 422.99h2.00M645.16 411.30h2.00M645.83 405.53h2.00M646.49 411.30h2.00M647.15 421.17h2.00M647.81 404.17h2.00M648.48 414.41h2.00M649.14 442.51h2.00M649.80 419.41h2.00M650.46 437.58h2.00M651.13 416.03h2.00M651.79 419.41h2.00M652.45 412.83h2.00M653.11 412.83h2.00M653.78 422.99h2.00M654.44 424.87h2.00M655.10 411.30h2.00M655.76 414.41h2.00M656.43 411.30h2.00M657.09 417.69h2.00M657.75 408.34h2.00M658.41 433.03h2.00M659.08 430.88h2.00M659.74 411.30h2.00M660.40 421.17h2.00M661.06 414.41h2.00M661.73 430.88h2.00M662.39 405.53h2.00M663.05 445.14h2.00M663.72 428.81h2.00M664.38 417.69h2.00M665.04 419.41h2.00M665.70 417.69h2.00M666.37 422.99h2.00M667.03 435.26h2.00M667.69 422.99h2.00M668.35 424.87h2.00M669.02 426.80h2.00M669.68 424.87h2.00M670.34 428.81h2.00M671.00 421.17h2.00M671.67 419.41h2.00M672.33 419.41h2.00M672.99 419.41h2.00M673.65 406.92h2.00M674.32 422.99h2.00M674.98 416.03h2.00M675.64 424.87h2.00M676.30 433.03h2.00M676.97 424.87h2.00M677.63 424.87h2.00M678.29 411.30h2.00M678.96 430.88h2.00M679.62 412.83h2.00M680.28 399.02h2.00M680.94 439.99h2.00M681.61 424.87h2.00M682.27 426.80h2.00M682.93 421.17h2.00M683.59 437.58h2.00M684.26 422.99h2.00M684.92 433.03h2.00M685.58 435.26h2.00M686.24 435.26h2.00M686.91 417.69h2.00M687.57 437.58h2.00M688.23 428.81h2.00M688.89 421.17h2.00M689.56 417.69h2.00M690.22 442.51h2.00M690.88 426.80h2.00M691.54 439.99h2.00M692.21 421.17h2.00M692.87 439.99h2.00M693.53 414.41h2.00M694.19 424.87h2.00M694.86 424.87h2.00M695.52 437.58h2.00M696.18 435.26h2.00M696.85 445.14h2.00M697.51 426.80h2.00M698.17 430.88h2.00M698.83 450.77h2.00M699.50 426.80h2.00M700.16 430.88h2.00M700.82 437.58h2.00M701.48 422.99h2.00M702.15 426.80h2.00M702.81 445.14h2.00M703.47 404.17h2.00M704.13 428.81h2.00M704.80 428.81h2.00M705.46 447.89h2.00M706.12 426.80h2.00M706.78 437.58h2.00M707.45 430.88h2.00M708.11 428.81h2.00M708.77 419.41h2.00M709.43 442.51h2.00M710.10 430.88h2.00M710.76 430.88h2.00M711.42 445.14h2.00M712.09 430.88h2.00M712.75 435.26h2.00M713.41 428.81h2.00M714.07 406.92h2.00M714.74 426.80h2.00M715.40 435.26h2.00M716.06 435.26h2.00M716.72 439.99h2.00M717.39 433.03h2.00M718.05 416.03h2.00M718.71 439.99h2.00M719.37 426.80h2.00M720.04 419.41h2.00M720.70 428.81h2.00M721.36 428.81h2.00M722.02 416.03h2.00M722.69 433.03h2.00M723.35 416.03h2.00M724.01 419.41h2.00M724.67 421.17h2.00M725.34 426.80h2.00M726.00 430.88h2.00M726.66 419.41h2.00M727.32 428.81h2.00M727.99 463.96h2.00M728.65 424.87h2.00M729.31 460.38h2.00M729.98 453.80h2.00M730.64 445.14h2.00M731.30 426.80h2.00M731.96 421.17h2.00M732.63 445.14h2.00M733.29 471.85h2.00M733.95 416.03h2.00M734.61 453.80h2.00M735.28 445.14h2.00M735.94 412.83h2.00M736.60 424.87h2.00M737.26 435.26h2.00M737.93 428.81h2.00M738.59 424.87h2.00M739.25 416.03h2.00M739.91 430.88h2.00M740.58 411.30h2.00M741.24 471.85h2.00M741.90 445.14h2.00M742.56 430.88h2.00M743.23 428.81h2.00M743.89 426.80h2.00M744.55 416.03h2.00M745.22 457.00h2.00M745.88 453.80h2.00M746.54 417.69h2.00M747.20 422.99h2.00M747.87 433.03h2.00M748.53 409.80h2.00M749.19 442.51h2.00M749.85 430.88h2.00M750.52 430.88h2.00M751.18 424.87h2.00M751.84 417.69h2.00M752.50 450.77h2.00M753.17 416.03h2.00M753.83 426.80h2.00M754.49 421.17h2.00M755.15 416.03h2.00M755.82 419.41h2.00M756.48 424.87h2.00M757.14 408.34h2.00M757.80 422.99h2.00M758.47 421.17h2.00M759.13 435.26h2.00M759.79 428.81h2.00M760.45 428.81h2.00M761.12 419.41h2.00M761.78 416.03h2.00M762.44 421.17h2.00M763.11 417.69h2.00M763.77 430.88h2.00M764.43 412.83h2.00M765.09 435.26h2.00M765.76 426.80h2.00M766.42 437.58h2.00M767.08 433.03h2.00M767.74 435.26h2.00" stroke="#0000ff" stroke-width="2.00" fill="none"/>
<path d="M114.76 481.64V539.17M115.42 422.75V453.60M116.08 379.84V400.31M116.75 371.08V389.96M117.41 339.18V353.30M118.07 297.30V307.01M118.73 259.09V266.03M119.40 227.74V233.03M120.06 207.99V212.45M120.72 184.30V187.94M121.38 166.49V169.61M122.05 144.29V146.87M122.71 124.38V126.56M123.37 110.28V112.21M124.03 96.48V98.20M124.70 85.34V86.90M125.36 75.62V77.06M126.02 67.68V69.02M126.68 61.03V62.30M127.35 53.54V54.73M128.01 49.58V50.73M128.67 45.60V46.72M129.33 42.55V43.63M130.00 40.12V41.19M130.66 39.39V40.44M131.32 39.47V40.53M131.98 40.37V41.43M132.65 42.50V43.59M133.31 43.83V44.93M133.97 46.97V48.10M134.64 49.70V50.85M135.30 53.67V54.87M135.96 58.33V59.57M136.62 63.22V64.52M137.29 64.96V66.27M137.95 72.99V74.40M138.61 77.98V79.45M139.27 83.88V85.42M139.94 90.42V92.05M140.60 97.82V99.56M141.26 105.91V107.77M141.92 114.67V116.68M142.59 126.23V128.45M143.25 136.21V138.62M143.91 153.72V156.52M144.57 159.27V162.21M145.24 164.84V167.92M145.90 174.18V177.52M146.56 178.56V182.02M147.22 187.08V190.81M147.89 196.86V200.91M148.55 203.88V208.19M149.21 214.56V219.28M149.88 226.96V232.22M150.54 231.43V236.89M151.20 240.66V246.57M151.86 252.95V259.54M152.53 260.28V267.30M153.19 261.15V268.22M153.85 277.72V285.89M154.51 289.85V298.94M155.18 293.44V302.83M155.84 306.60V317.15M156.50 315.02V326.39M157.16 323.10V335.32M157.83 332.21V345.47M158.49 351.07V366.79M159.15 361.92V379.27M159.81 376.37V396.19M160.48 374.70V394.22M161.14 377.62V397.68M161.80 378.63V398.88M162.46 399.87V424.59M163.13 399.86V424.58M163.79 391.79V414.68M164.45 397.46V421.62M165.11 386.92V408.79M165.78 398.81V423.28M166.44 387.37V409.34M167.10 395.52V419.24M167.77 398.71V423.16M168.43 394.61V418.13M169.09 383.90V405.17M169.75 394.62V418.14M170.42 418.82V448.50M171.08 400.20V425.00M171.74 407.86V434.54M172.40 400.15V424.93M173.07 387.30V409.25M173.73 394.76V418.31M174.39 395.85V419.65M175.05 384.85V406.30M175.72 388.18V410.32M176.38 393.63V416.93M177.04 394.67V418.20M177.70 405.07V431.05M178.37 394.09V417.49M179.03 387.63V409.65M179.69 381.42V402.20M180.35 399.50V424.13M181.02 382.55V403.55M181.68 402.68V428.08M182.34 393.21V416.42M183.01 391.48V414.31M183.67 380.02V400.52M184.33 391.51V414.35M184.99 385.98V407.66M185.66 393.47V416.73M186.32 416.46V445.47M186.98 398.61V423.04M187.64 385.80V407.45M188.31 382.57V403.57M188.97 391.62V414.49M189.63 379.75V400.20M190.29 395.08V418.70M190.96 390.12V412.66M191.62 384.52V405.90M192.28 396.55V420.50M192.94 383.00V404.08M193.61 386.87V408.74M194.27 397.64V421.85M194.93 380.65V401.28M195.59 392.52V415.58M196.26 423.79V454.96M196.92 389.27V411.63M197.58 398.29V422.65M198.24 387.64V409.66M198.91 383.09V404.20M199.57 398.66V423.10M200.23 397.34V421.47M200.90 383.55V404.75M201.56 400.86V425.81M202.22 393.11V416.30M202.88 406.81V433.23M203.55 390.88V413.58M204.21 390.68V413.35M204.87 391.38V414.20M205.53 392.06V415.02M206.20 403.08V428.57M206.86 383.15V404.26M207.52 383.23V404.36M208.18 391.52V414.36M208.85 396.82V420.83M209.51 398.97V423.48M210.17 390.26V412.82M210.83 386.30V408.05M211.50 397.21V421.31M212.16 392.89V416.03M212.82 394.73V418.28M213.48 390.09V412.63M214.15 381.21V401.95M214.81 399.61V424.26M215.47 388.10V410.22M216.14 388.29V410.44M216.80 411.07V438.59M217.46 381.16V401.88M218.12 395.16V418.79M218.79 386.49V408.28M219.45 382.91V403.98M220.11 393.38V416.62M220.77 387.46V409.44M221.44 408.37V435.19M222.10 393.35V416.59M222.76 401.21V426.24M223.42 421.14V451.50M224.09 402.40V427.72M224.75 389.34V411.71M225.41 395.26V418.92M226.07 399.22V423.79M226.74 392.10V415.06M227.40 394.24V417.67M228.06 404.48V430.32M228.72 400.10V424.88M229.39 405.62V431.73M230.05 418.69V448.34M230.71 410.32V437.65M231.37 387.67V409.70M232.04 399.27V423.85M232.70 401.11V426.13M233.36 394.53V418.03M234.03 402.76V428.17M234.69 392.63V415.71M235.35 412.20V440.02M236.01 400.87V425.82M236.68 399.33V423.92M237.34 386.73V408.57M238.00 391.45V414.27M238.66 422.26V452.95M239.33 410.71V438.14M239.99 402.50V427.85M240.65 408.35V435.16M241.31 406.09V432.33M241.98 398.23V422.57M242.64 412.54V440.46M243.30 408.14V434.89M243.96 395.08V418.70M244.63 407.48V434.06M245.29 382.74V403.78M245.95 390.33V412.91M246.61 428.39V461.01M247.28 388.69V410.93M247.94 393.71V417.03M248.60 422.82V453.69M249.27 428.44V461.07M249.93 391.31V414.10M250.59 399.26V423.84M251.25 376.47V396.31M251.92 401.74V426.91M252.58 386.01V407.70M253.24 391.98V414.91M253.90 398.26V422.60M254.57 393.71V417.03M255.23 388.55V410.76M255.89 402.06V427.30M256.55 398.57V422.98M257.22 407.90V434.60M257.88 415.13V443.77M258.54 404.08V429.81M259.20 404.11V429.85M259.87 417.64V446.98M260.53 416.49V445.50M261.19 386.42V408.19M261.85 399.38V423.98M262.52 419.42V449.27M263.18 394.59V418.10M263.84 396.46V420.40M264.50 395.59V419.32M265.17 392.86V415.99M265.83 390.04V412.57M266.49 388.44V410.63M267.16 400.20V425.00M267.82 418.21V447.72M268.48 381.88V402.75M269.14 391.64V414.50M269.81 397.82V422.07M270.47 405.49V431.57M271.13 396.01V419.85M271.79 392.11V415.07M272.46 385.13V406.64M273.12 399.05V423.58M273.78 392.04V414.99M274.44 394.96V418.55M275.11 410.09V437.35M275.77 404.74V430.64M276.43 395.57V419.29M277.09 402.27V427.56M277.76 397.04V421.11M278.42 397.83V422.07M279.08 405.98V432.18M279.74 409.00V435.98M280.41 388.64V410.87M281.07 399.49V424.13M281.73 391.70V414.57M282.40 403.07V428.55M283.06 398.04V422.33M283.72 393.93V417.29M284.38 395.59V419.33M285.05 396.98V421.03M285.71 396.43V420.36M286.37 397.59V421.78M287.03 404.25V430.03M287.70 403.36V428.92M288.36 386.38V408.15M289.02 386.13V407.85M289.68 391.90V414.82M290.35 391.72V414.60M291.01 428.90V461.68M291.67 392.60V415.68M292.33 404.53V430.38M293.00 407.15V433.66M293.66 380.16V400.70M294.32 395.74V419.51M294.98 397.30V421.42M295.65 388.28V410.43M296.31 373.76V393.11M296.97 387.78V409.83M297.63 388.23V410.38M298.30 402.52V427.87M298.96 398.47V422.86M299.62 399.44V424.06M300.29 398.35V422.71M300.95 400.13V424.91M301.61 401.58V426.71M302.27 423.74V454.89M302.94 390.93V413.65M303.60 393.15V416.34M304.26 401.51V426.61M304.92 403.64V429.26M305.59 399.57V424.22M306.25 395.29V418.96M306.91 398.94V423.44M307.57 394.61V418.12M308.24 397.57V421.76M308.90 407.37V433.93M309.56 374.59V394.08M310.22 404.44V430.26M310.89 381.57V402.37M311.55 390.43V413.03M312.21 392.20V415.19M312.87 395.34V419.02M313.54 388.80V411.06M314.20 429.10V461.95M314.86 412.77V440.76M315.53 389.56V411.98M316.19 400.74V425.67M316.85 392.83V415.95M317.51 402.20V427.47M318.18 390.87V413.57M318.84 396.08V419.93M319.50 399.57V424.22M320.16 392.62V415.69M320.83 385.06V406.56M321.49 405.16V431.17M322.15 429.18V462.06M322.81 404.68V430.56M323.48 385.35V406.90M324.14 387.88V409.95M324.80 421.27V451.67M325.46 396.97V421.02M326.13 390.16V412.70M326.79 405.28V431.31M327.45 373.15V392.40M328.11 426.13V458.02M328.78 395.69V419.45M329.44 401.89V427.09M330.10 392.55V415.62M330.76 401.72V426.88M331.43 399.87V424.59M332.09 399.10V423.64M332.75 406.18V432.44M333.42 400.19V424.99M334.08 386.47V408.25M334.74 398.19V422.52M335.40 381.08V401.80M336.07 395.24V418.90M336.73 394.09V417.49M337.39 400.83V425.78M338.05 404.69V430.57M338.72 403.43V429.01M339.38 403.06V428.55M340.04 404.80V430.71M340.70 398.34V422.70M341.37 405.73V431.88M342.03 401.67V426.82M342.69 381.62V402.44M343.35 398.58V423.00M344.02 396.90V420.93M344.68 395.32V419.00M345.34 386.03V407.72M346.00 384.71V406.13M346.67 395.99V419.81M347.33 395.75V419.52M347.99 394.34V417.79M348.66 420.77V451.02M349.32 387.91V409.99M349.98 402.31V427.61M350.64 392.79V415.91M351.31 393.22V416.43M351.97 405.14V431.14M352.63 405.57V431.67M353.29 408.95V435.91M353.96 397.31V421.44M354.62 399.43V424.04M355.28 414.60V443.08M355.94 396.84V420.86M356.61 394.74V418.28M357.27 397.21V421.31M357.93 391.69V414.57M358.59 402.56V427.92M359.26 416.82V445.92M359.92 384.60V406.00M360.58 398.94V423.44M361.24 402.61V427.99M361.91 384.94V406.42M362.57 398.48V422.87M363.23 396.45V420.38M363.89 402.82V428.25M364.56 394.28V417.73M365.22 405.68V431.81M365.88 382.76V403.80M366.55 388.53V410.74M367.21 405.55V431.65M367.87 401.67V426.82M368.53 398.41V422.79M369.20 397.59V421.78M369.86 390.67V413.33M370.52 391.96V414.89M371.18 403.45V429.03M371.85 413.91V442.20M372.51 399.78V424.47M373.17 413.23V441.33M373.83 405.18V431.19M374.50 416.93V446.06M375.16 391.61V414.47M375.82 402.25V427.53M376.48 395.68V419.43M377.15 404.05V429.77M377.81 403.23V428.75M378.47 391.84V414.75M379.13 393.99V417.37M379.80 407.60V434.21M380.46 406.09V432.32M381.12 384.19V405.51M381.79 393.60V416.90M382.45 402.75V428.16M383.11 395.31V418.99M383.77 394.82V418.38M384.44 400.91V425.87M385.10 401.76V426.93M385.76 406.92V433.36M386.42 398.27V422.62M387.09 398.61V423.03M387.75 393.73V417.05M388.41 396.47V420.41M389.07 416.30V445.25M389.74 417.17V446.37M390.40 389.92V412.41M391.06 406.81V433.22M391.72 393.79V417.12M392.39 396.74V420.73M393.05 394.84V418.41M393.71 397.87V422.13M394.37 401.66V426.81M395.04 400.52V425.39M395.70 400.09V424.86M396.36 387.17V409.09M397.02 395.20V418.85M397.69 399.55V424.19M398.35 393.52V416.80M399.01 403.91V429.60M399.68 416.57V445.60M400.34 397.74V421.97M401.00 412.60V440.54M401.66 397.30V421.42M402.33 401.98V427.20M402.99 392.35V415.36M403.65 414.82V443.36M404.31 403.00V428.47M404.98 404.44V430.26M405.64 430.21V463.42M406.30 398.77V423.23M406.96 389.61V412.05M407.63 401.09V426.10M408.29 367.95V386.29M408.95 400.64V425.54M409.61 395.78V419.56M410.28 401.82V427.00M410.94 415.98V444.85M411.60 395.04V418.65M412.26 394.17V417.58M412.93 416.98V446.13M413.59 421.54V452.02M414.25 396.36V420.26M414.92 418.85V448.54M415.58 400.77V425.70M416.24 404.43V430.25M416.90 406.04V432.26M417.57 397.17V421.26M418.23 402.76V428.17M418.89 401.25V426.30M419.55 391.03V413.77M420.22 392.53V415.59M420.88 406.49V432.83M421.54 402.96V428.42M422.20 400.05V424.81M422.87 401.54V426.65M423.53 404.04V429.76M424.19 395.89V419.69M424.85 408.28V435.08M425.52 416.52V445.54M426.18 399.57V424.22M426.84 391.44V414.27M427.50 381.55V402.35M428.17 432.24V466.14M428.83 399.94V424.67M429.49 408.69V435.59M430.15 407.50V434.09M430.82 387.36V409.32M431.48 404.83V430.74M432.14 401.48V426.58M432.81 392.49V415.54M433.47 411.98V439.75M434.13 392.24V415.23M434.79 408.37V435.19M435.46 393.55V416.83M436.12 394.14V417.55M436.78 402.55V427.91M437.44 414.93V443.50M438.11 403.30V428.84M438.77 389.95V412.46M439.43 381.57V402.38M440.09 414.23V442.61M440.76 431.10V464.61M441.42 387.81V409.87M442.08 393.81V417.15M442.74 400.22V425.02M443.41 400.31V425.13M444.07 401.35V426.42M444.73 413.73V441.98M445.39 430.53V463.85M446.06 411.94V439.70M446.72 397.28V421.40M447.38 401.69V426.84M448.05 402.97V428.43M448.71 401.46V426.56M449.37 409.27V436.32M450.03 406.91V433.35M450.70 399.84V424.55M451.36 395.39V419.08M452.02 392.10V415.06M452.68 412.57V440.50M453.35 402.23V427.52M454.01 399.05V423.58M454.67 410.94V438.42M455.33 396.86V420.88M456.00 398.60V423.02M456.66 412.25V440.09M457.32 398.44V422.82M457.98 392.65V415.73M458.65 390.09V412.62M459.31 411.86V439.59M459.97 400.08V424.85M460.63 410.38V437.72M461.30 414.26V442.64M461.96 413.36V441.50M462.62 417.63V446.97M463.28 410.07V437.32M463.95 392.04V414.99M464.61 404.54V430.39M465.27 398.64V423.08M465.94 410.85V438.32M466.60 427.05V459.23M467.26 413.24V441.35M467.92 422.93V453.83M468.59 408.40V435.22M469.25 401.81V427.00M469.91 410.92V438.41M470.57 404.78V430.69M471.24 405.23V431.25M471.90 437.56V473.32M472.56 402.86V428.30M473.22 415.26V443.92M473.89 401.86V427.05M474.55 399.01V423.53M475.21 403.93V429.63M475.87 400.39V425.23M476.54 405.26V431.29M477.20 394.07V417.47M477.86 404.66V430.54M478.52 407.50V434.09M479.19 408.16V434.92M479.85 415.75V444.55M480.51 419.33V449.15M481.18 409.55V436.68M481.84 413.12V441.19M482.50 407.65V434.29M483.16 393.56V416.85M483.83 413.50V441.69M484.49 399.93V424.67M485.15 413.08V441.14M485.81 401.91V427.12M486.48 394.34V417.80M487.14 384.23V405.56M487.80 409.82V437.01M488.46 404.24V430.02M489.13 410.45V437.81M489.79 410.96V438.46M490.45 400.84V425.80M491.11 400.37V425.21M491.78 404.82V430.74M492.44 406.99V433.46M493.10 399.04V423.56M493.76 412.26V440.10M494.43 402.46V427.79M495.09 389.66V412.11M495.75 395.91V419.72M496.41 395.67V419.42M497.08 416.27V445.22M497.74 392.03V414.98M498.40 395.26V418.92M499.07 426.26V458.20M499.73 423.60V454.71M500.39 398.83V423.31M501.05 410.63V438.03M501.72 409.49V436.60M502.38 404.83V430.75M503.04 408.52V435.37M503.70 409.21V436.25M504.37 426.35V458.32M505.03 430.84V464.26M505.69 420.10V450.15M506.35 407.92V434.62M507.02 396.90V420.94M507.68 402.62V428.00M508.34 415.58V444.33M509.00 420.10V450.16M509.67 405.73V431.88M510.33 411.41V439.02M510.99 396.79V420.80M511.65 391.64V414.51M512.32 426.37V458.34M512.98 412.19V440.02M513.64 406.43V432.75M514.31 404.28V430.06M514.97 396.89V420.92M515.63 385.70V407.33M516.29 409.60V436.74M516.96 388.03V410.14M517.62 411.45V439.08M518.28 412.95V440.99M518.94 403.45V429.03M519.61 418.00V447.44M520.27 410.19V437.48M520.93 394.20V417.62M521.59 415.09V443.71M522.26 411.33V438.92M522.92 376.26V396.06M523.58 405.71V431.85M524.24 424.44V455.81M524.91 437.19V472.81M525.57 405.42V431.48M526.23 407.28V433.81M526.89 407.50V434.09M527.56 406.42V432.74M528.22 408.17V434.93M528.88 407.23V433.75M529.54 390.71V413.37M530.21 384.75V406.18M530.87 404.80V430.72M531.53 415.20V443.85M532.20 398.12V422.43M532.86 409.29V436.35M533.52 404.56V430.41M534.18 414.63V443.11M534.85 416.12V445.03M535.51 422.42V453.16M536.17 393.86V417.22M536.83 383.93V405.20M537.50 419.89V449.88M538.16 420.10V450.15M538.82 437.41V473.11M539.48 421.21V451.59M540.15 403.50V429.09M540.81 392.91V416.05M541.47 400.42V425.27M542.13 421.38V451.82M542.80 413.10V441.17M543.46 412.44V440.33M544.12 435.78V470.91M544.78 404.26V430.03M545.45 390.08V412.61M546.11 397.65V421.86M546.77 398.76V423.23M547.44 403.94V429.64M548.10 412.65V440.60M548.76 418.53V448.12M549.42 427.44V459.74M550.09 392.65V415.74M550.75 397.00V421.06M551.41 399.26V423.83M552.07 406.11V432.35M552.74 401.31V426.38M553.40 410.57V437.96M554.06 432.48V466.46M554.72 417.79V447.17M555.39 408.28V435.07M556.05 407.60V434.22M556.71 408.52V435.38M557.37 411.89V439.64M558.04 396.59V420.55M558.70 400.20V425.00M559.36 410.36V437.69M560.02 423.95V455.16M560.69 426.83V458.94M561.35 391.64V414.51M562.01 415.78V444.59M562.67 406.42V432.74M563.34 406.42V432.74M564.00 412.26V440.10M564.66 411.06V438.58M565.33 401.11V426.12M565.99 407.92V434.62M566.65 403.53V429.13M567.31 400.44V425.30M567.98 397.24V421.35M568.64 405.20V431.21M569.30 407.40V433.96M569.96 409.11V436.12M570.63 404.63V430.50M571.29 411.78V439.49M571.95 393.29V416.51M572.61 408.26V435.05M573.28 399.13V423.68M573.94 397.00V421.06M574.60 388.90V411.18M575.26 398.32V422.68M575.93 396.90V420.93M576.59 404.85V430.77M577.25 414.07V442.40M577.91 400.56V425.44M578.58 414.24V442.62M579.24 404.69V430.58M579.90 404.90V430.83M580.57 398.49V422.89M581.23 415.67V444.45M581.89 404.52V430.36M582.55 400.11V424.89M583.22 407.08V433.57M583.88 404.04V429.76M584.54 402.60V427.97M585.20 420.44V450.59M585.87 407.04V433.51M586.53 389.21V411.56M587.19 396.08V419.93M587.85 396.57V420.52M588.52 399.57V424.22M589.18 419.19V448.98M589.84 396.29V420.18M590.50 427.27V459.52M591.17 409.72V436.89M591.83 426.37V458.34M592.49 439.58V476.09M593.15 398.12V422.44M593.82 405.06V431.04M594.48 420.78V451.04M595.14 439.77V476.34M595.80 417.44V446.72M596.47 395.59V419.33M597.13 411.99V439.76M597.79 416.09V444.98M598.46 402.05V427.29M599.12 387.90V409.97M599.78 417.94V447.36M600.44 419.80V449.76M601.11 392.10V415.06M601.77 414.32V442.73M602.43 389.88V412.36M603.09 414.55V443.02M603.76 415.48V444.21M604.42 405.48V431.56M605.08 387.66V409.69M605.74 404.32V430.11M606.41 403.34V428.89M607.07 382.86V403.92M607.73 405.73V431.88M608.39 420.24V450.33M609.06 401.61V426.74M609.72 403.34V428.90M610.38 407.58V434.19M611.04 430.68V464.05M611.71 412.80V440.79M612.37 402.41V427.74M613.03 414.66V443.15M613.70 400.45V425.31M614.36 394.26V417.70M615.02 409.82V437.01M615.68 407.54V434.14M616.35 422.75V453.59M617.01 410.94V438.43M617.67 423.74V454.89M618.33 407.60V434.21M619.00 410.80V438.25M619.66 410.59V437.99M620.32 413.99V442.31M620.98 421.77V452.31M621.65 400.37V425.20M622.31 394.54V418.04M622.97 410.27V437.58M623.63 407.98V434.69M624.30 405.22V431.23M624.96 429.74V462.80M625.62 403.04V428.52M626.28 413.58V441.78M626.95 414.64V443.13M627.61 413.19V441.28M628.27 406.31V432.60M628.93 403.38V428.95M629.60 411.19V438.74M630.26 409.84V437.03M630.92 406.81V433.23M631.59 414.95V443.53M632.25 416.80V445.90M632.91 407.00V433.47M633.57 396.81V420.82M634.24 399.51V424.14M634.90 418.62V448.24M635.56 409.07V436.07M636.22 400.55V425.43M636.89 395.56V419.29M637.55 414.04V442.37M638.21 411.52V439.16M638.87 408.28V435.07M639.54 421.21V451.59M640.20 410.67V438.09M640.86 420.85V451.12M641.52 418.49V448.07M642.19 406.15V432.40M642.85 415.54V444.28M643.51 412.54V440.46M644.17 442.98V480.77M644.84 408.69V435.59M645.50 418.83V448.51M646.16 409.78V436.96M646.83 413.19V441.28M647.49 405.60V431.71M648.15 417.10V446.28M648.81 403.10V428.59M649.48 407.93V434.64M650.14 431.72V465.43M650.80 403.80V429.47M651.46 412.47V440.37M652.13 419.85V449.83M652.79 419.90V449.89M653.45 422.65V453.47M654.11 418.26V447.78M654.78 410.35V437.68M655.44 409.39V436.47M656.10 414.57V443.05M656.76 406.76V433.17M657.43 404.92V430.87M658.09 435.02V469.87M658.75 415.09V443.71M659.41 445.02V483.62M660.08 409.38V436.46M660.74 413.61V441.83M661.40 420.35V450.47M662.06 430.97V464.43M662.73 415.25V443.91M663.39 430.69V464.06M664.05 406.00V432.21M664.72 400.31V425.13M665.38 420.88V451.17M666.04 414.29V442.68M666.70 421.34V451.76M667.37 433.41V467.71M668.03 426.10V457.98M668.69 423.57V454.67M669.35 413.28V441.40M670.02 416.90V446.02M670.68 409.44V436.53M671.34 419.68V449.61M672.00 407.79V434.46M672.67 427.35V459.64M673.33 417.79V447.17M673.99 423.19V454.17M674.65 406.11V432.35M675.32 411.12V438.65M675.98 423.45V454.52M676.64 414.35V442.77M677.30 414.13V442.48M677.97 404.38V430.18M678.63 445.60V484.43M679.29 410.37V437.71M679.96 422.69V453.52M680.62 416.87V445.99M681.28 413.48V441.65M681.94 398.78V423.24M682.61 398.84V423.32M683.27 413.21V441.31M683.93 404.28V430.07M684.59 411.07V438.59M685.26 422.57V453.37M685.92 409.51V436.62M686.58 427.29V459.55M687.24 412.43V440.32M687.91 429.96V463.09M688.57 424.73V456.18M689.23 434.46V469.12M689.89 417.85V447.25M690.56 421.95V452.55M691.22 445.88V484.82M691.88 415.56V444.31M692.54 414.53V443.00M693.21 397.92V422.19M693.87 416.79V445.89M694.53 410.02V437.27M695.19 418.36V447.91M695.86 404.77V430.68M696.52 397.36V421.50M697.18 406.23V432.50M697.85 411.13V438.67M698.51 421.32V451.73M699.17 414.11V442.46M699.83 415.82V444.64M700.50 398.78V423.25M701.16 409.07V436.07M701.82 418.68V448.32M702.48 391.99V414.93M703.15 411.83V439.56M703.81 429.90V463.01M704.47 415.78V444.59M705.13 409.57V436.70M705.80 446.15V485.20M706.46 413.11V441.19M707.12 415.41V444.12M707.78 396.12V419.97M708.45 422.09V452.74M709.11 427.76V460.17M709.77 415.13V443.76M710.43 415.73V444.53M711.10 418.97V448.69M711.76 421.07V451.40M712.42 446.27V485.36M713.09 409.65V436.79M713.75 406.33V432.62M714.41 396.50V420.45M715.07 393.59V416.88M715.74 414.50V442.96M716.40 404.37V430.17M717.06 406.48V432.81M717.72 441.69V478.98M718.39 416.52V445.54M719.05 411.25V438.82M719.71 425.32V456.96M720.37 418.80V448.47M721.04 418.33V447.87M721.70 409.82V437.01M722.36 425.65V457.40M723.02 420.43V450.58M723.69 432.24V466.14M724.35 407.42V433.99M725.01 414.19V442.56M725.67 425.91V457.74M726.34 446.52V485.72M727.00 428.44V461.08M727.66 422.87V453.75M728.32 406.59V432.95M728.99 409.74V436.91M729.65 403.83V429.50M730.31 400.51V425.39M730.98 411.72V439.42M731.64 428.11V460.63M732.30 421.88V452.47M732.96 415.68V444.46M733.63 425.18V456.77M734.29 424.69V456.13M734.95 409.35V436.42M735.61 378.32V398.51M736.28 413.86V442.13M736.94 431.78V465.52M737.60 408.68V435.58M738.26 422.40V453.14M738.93 431.09V464.59M739.59 404.58V430.44M740.25 446.81V486.13M740.91 414.49V442.95M741.58 399.61V424.26M742.24 411.29V438.87M742.90 424.36V455.70M743.56 419.26V449.07M744.23 414.70V443.20M744.89 416.49V445.50M745.55 422.55V453.33M746.22 434.25V468.84M746.88 402.86V428.30M747.54 403.94V429.63M748.20 412.30V440.15M748.87 412.28V440.13M749.53 443.83V481.96M750.19 422.13V452.79M750.85 429.33V462.26M751.52 418.44V448.01M752.18 415.57V444.32M752.84 413.29V441.41M753.50 408.93V435.89M754.17 421.21V451.59M754.83 419.58V449.48M755.49 432.76V466.83M756.15 418.54V448.14M756.82 424.03V455.27M757.48 422.46V453.22M758.14 406.34V432.64M758.80 419.53V449.42M759.47 401.96V427.17M760.13 422.69V453.52M760.79 446.59V485.82M761.45 411.52V439.16M762.12 417.95V447.38M762.78 420.37V450.50M763.44 406.53V432.88M764.11 433.19V467.40M764.77 420.66V450.87M765.43 417.21V446.43M766.09 432.45V466.41M766.76 404.70V430.58M767.42 409.68V436.84M768.08 385.53V407.11M768.74 414.43V442.86" stroke="#000000" stroke-width="1.60" fill="none"/><path d="M113.76 503.66h2.00M114.42 436.19h2.00M115.08 389.19h2.00M115.75 379.77h2.00M116.41 345.82h2.00M117.07 301.96h2.00M117.73 262.46h2.00M118.40 230.33h2.00M119.06 210.18h2.00M119.72 186.10h2.00M120.38 168.03h2.00M121.05 145.57h2.00M121.71 125.46h2.00M122.37 111.24h2.00M123.03 97.33h2.00M123.70 86.11h2.00M124.36 76.34h2.00M125.02 68.35h2.00M125.68 61.66h2.00M126.35 54.14h2.00M127.01 50.15h2.00M127.67 46.16h2.00M128.33 43.08h2.00M129.00 40.65h2.00M129.66 39.91h2.00M130.32 39.99h2.00M130.98 40.90h2.00M131.65 43.04h2.00M132.31 44.38h2.00M132.97 47.53h2.00M133.64 50.27h2.00M134.30 54.27h2.00M134.96 58.95h2.00M135.62 63.87h2.00M136.29 65.61h2.00M136.95 73.69h2.00M137.61 78.71h2.00M138.27 84.64h2.00M138.94 91.23h2.00M139.60 98.69h2.00M140.26 106.83h2.00M140.92 115.67h2.00M141.59 127.33h2.00M142.25 137.40h2.00M142.91 155.11h2.00M143.57 160.72h2.00M144.24 166.36h2.00M144.90 175.83h2.00M145.56 180.27h2.00M146.22 188.91h2.00M146.89 198.85h2.00M147.55 206.00h2.00M148.21 216.87h2.00M148.88 229.53h2.00M149.54 234.09h2.00M150.20 243.54h2.00M150.86 256.15h2.00M151.53 263.69h2.00M152.19 264.58h2.00M152.85 281.67h2.00M153.51 294.22h2.00M154.18 297.95h2.00M154.84 311.64h2.00M155.50 320.43h2.00M156.16 328.89h2.00M156.83 338.47h2.00M157.49 358.41h2.00M158.15 369.96h2.00M158.81 385.45h2.00M159.48 383.66h2.00M160.14 386.80h2.00M160.80 387.89h2.00M161.46 410.95h2.00M162.13 410.94h2.00M162.79 402.13h2.00M163.45 408.31h2.00M164.11 396.85h2.00M164.78 409.79h2.00M165.44 397.34h2.00M166.10 406.19h2.00M166.77 409.68h2.00M167.43 405.21h2.00M168.09 393.58h2.00M168.75 405.22h2.00M169.42 431.81h2.00M170.08 411.31h2.00M170.74 419.70h2.00M171.40 411.25h2.00M172.07 397.26h2.00M172.73 405.37h2.00M173.39 406.56h2.00M174.05 394.61h2.00M174.72 398.22h2.00M175.38 404.14h2.00M176.04 405.27h2.00M176.70 416.65h2.00M177.37 404.64h2.00M178.03 397.62h2.00M178.69 390.90h2.00M179.35 410.54h2.00M180.02 392.12h2.00M180.68 414.03h2.00M181.34 403.68h2.00M182.01 401.80h2.00M182.67 389.38h2.00M183.33 401.83h2.00M183.99 395.83h2.00M184.66 403.96h2.00M185.32 429.20h2.00M185.98 409.57h2.00M186.64 395.64h2.00M187.31 392.15h2.00M187.97 401.96h2.00M188.63 389.10h2.00M189.29 405.72h2.00M189.96 400.32h2.00M190.62 394.25h2.00M191.28 407.32h2.00M191.94 392.60h2.00M192.61 396.80h2.00M193.27 408.51h2.00M193.93 390.07h2.00M194.59 402.93h2.00M195.26 437.35h2.00M195.92 399.40h2.00M196.58 409.23h2.00M197.24 397.63h2.00M197.91 392.71h2.00M198.57 409.63h2.00M199.23 408.18h2.00M199.90 393.21h2.00M200.56 412.03h2.00M201.22 403.57h2.00M201.88 418.56h2.00M202.55 401.15h2.00M203.21 400.94h2.00M203.87 401.70h2.00M204.53 402.43h2.00M205.20 414.46h2.00M205.86 392.77h2.00M206.52 392.85h2.00M207.18 401.85h2.00M207.85 407.61h2.00M208.51 409.97h2.00M209.17 400.47h2.00M209.83 396.18h2.00M210.50 408.04h2.00M211.16 403.34h2.00M211.82 405.34h2.00M212.48 400.29h2.00M213.15 390.67h2.00M213.81 410.66h2.00M214.47 398.13h2.00M215.14 398.33h2.00M215.80 423.24h2.00M216.46 390.61h2.00M217.12 405.80h2.00M217.79 396.39h2.00M218.45 392.51h2.00M219.11 403.87h2.00M219.77 397.43h2.00M220.44 420.27h2.00M221.10 403.84h2.00M221.76 412.41h2.00M222.42 434.39h2.00M223.09 413.72h2.00M223.75 399.47h2.00M224.41 405.91h2.00M225.07 410.24h2.00M225.74 402.47h2.00M226.40 404.80h2.00M227.06 416.00h2.00M227.72 411.20h2.00M228.39 417.24h2.00M229.05 431.68h2.00M229.71 422.42h2.00M230.37 397.67h2.00M231.04 410.29h2.00M231.70 412.31h2.00M232.36 405.12h2.00M233.03 414.11h2.00M233.69 403.05h2.00M234.35 424.49h2.00M235.01 412.04h2.00M235.68 410.35h2.00M236.34 396.65h2.00M237.00 401.77h2.00M237.66 435.63h2.00M238.33 422.84h2.00M238.99 413.82h2.00M239.65 420.25h2.00M240.31 417.77h2.00M240.98 409.16h2.00M241.64 424.87h2.00M242.30 420.01h2.00M242.96 405.71h2.00M243.63 419.29h2.00M244.29 392.33h2.00M244.95 400.55h2.00M245.61 442.48h2.00M246.28 398.77h2.00M246.94 404.22h2.00M247.60 436.27h2.00M248.27 442.53h2.00M248.93 401.61h2.00M249.59 410.28h2.00M250.25 385.56h2.00M250.92 413.00h2.00M251.58 395.86h2.00M252.24 402.34h2.00M252.90 409.19h2.00M253.57 404.23h2.00M254.23 398.61h2.00M254.89 413.34h2.00M255.55 409.52h2.00M256.22 419.75h2.00M256.88 427.73h2.00M257.54 415.55h2.00M258.20 415.59h2.00M258.87 430.51h2.00M259.53 429.23h2.00M260.19 396.30h2.00M260.85 410.41h2.00M261.52 432.48h2.00M262.18 405.19h2.00M262.84 407.23h2.00M263.50 406.27h2.00M264.17 403.30h2.00M264.83 400.24h2.00M265.49 398.50h2.00M266.16 411.31h2.00M266.82 431.14h2.00M267.48 391.40h2.00M268.14 401.97h2.00M268.81 408.71h2.00M269.47 417.10h2.00M270.13 406.74h2.00M270.79 402.48h2.00M271.46 394.91h2.00M272.12 410.05h2.00M272.78 402.41h2.00M273.44 405.58h2.00M274.11 422.16h2.00M274.77 416.28h2.00M275.43 406.25h2.00M276.09 413.57h2.00M276.76 407.86h2.00M277.42 408.72h2.00M278.08 417.64h2.00M278.74 420.96h2.00M279.41 398.72h2.00M280.07 410.54h2.00M280.73 402.04h2.00M281.40 414.45h2.00M282.06 408.95h2.00M282.72 404.46h2.00M283.38 406.28h2.00M284.05 407.79h2.00M284.71 407.19h2.00M285.37 408.46h2.00M286.03 415.75h2.00M286.70 414.77h2.00M287.36 396.27h2.00M288.02 396.00h2.00M288.68 402.26h2.00M289.35 402.06h2.00M290.01 443.05h2.00M290.67 403.02h2.00M291.33 416.05h2.00M292.00 418.93h2.00M292.66 389.54h2.00M293.32 406.44h2.00M293.98 408.13h2.00M294.65 398.32h2.00M295.31 382.64h2.00M295.97 397.78h2.00M296.63 398.27h2.00M297.30 413.85h2.00M297.96 409.41h2.00M298.62 410.48h2.00M299.29 409.28h2.00M299.95 411.23h2.00M300.61 412.82h2.00M301.27 437.29h2.00M301.94 401.21h2.00M302.60 403.62h2.00M303.26 412.74h2.00M303.92 415.07h2.00M304.59 410.62h2.00M305.25 405.95h2.00M305.91 409.93h2.00M306.57 405.20h2.00M307.24 408.44h2.00M307.90 419.17h2.00M308.56 383.54h2.00M309.22 415.95h2.00M309.89 391.06h2.00M310.55 400.66h2.00M311.21 402.58h2.00M311.87 406.00h2.00M312.54 398.89h2.00M313.20 443.27h2.00M313.86 425.13h2.00M314.53 399.71h2.00M315.19 411.90h2.00M315.85 403.27h2.00M316.51 413.50h2.00M317.18 401.13h2.00M317.84 406.81h2.00M318.50 410.62h2.00M319.16 403.04h2.00M319.83 394.84h2.00M320.49 416.75h2.00M321.15 443.36h2.00M321.81 416.22h2.00M322.48 395.15h2.00M323.14 397.89h2.00M323.80 434.54h2.00M324.46 407.78h2.00M325.13 400.36h2.00M325.79 416.88h2.00M326.45 382.00h2.00M327.11 439.95h2.00M327.78 406.39h2.00M328.44 413.16h2.00M329.10 402.97h2.00M329.76 412.97h2.00M330.43 410.94h2.00M331.09 410.10h2.00M331.75 417.86h2.00M332.42 411.30h2.00M333.08 396.37h2.00M333.74 409.11h2.00M334.40 390.54h2.00M335.07 405.89h2.00M335.73 404.64h2.00M336.39 412.00h2.00M337.05 416.22h2.00M337.72 414.85h2.00M338.38 414.44h2.00M339.04 416.34h2.00M339.70 409.27h2.00M340.37 417.37h2.00M341.03 412.92h2.00M341.69 391.12h2.00M342.35 409.54h2.00M343.02 407.70h2.00M343.68 405.98h2.00M344.34 395.88h2.00M345.00 394.45h2.00M345.67 406.71h2.00M346.33 406.45h2.00M346.99 404.91h2.00M347.66 433.98h2.00M348.32 397.93h2.00M348.98 413.61h2.00M349.64 403.23h2.00M350.31 403.69h2.00M350.97 416.72h2.00M351.63 417.19h2.00M352.29 420.90h2.00M352.96 408.15h2.00M353.62 410.46h2.00M354.28 427.14h2.00M354.94 407.64h2.00M355.61 405.34h2.00M356.27 408.04h2.00M356.93 402.03h2.00M357.59 413.89h2.00M358.26 429.60h2.00M358.92 394.34h2.00M359.58 409.93h2.00M360.24 413.95h2.00M360.91 394.71h2.00M361.57 409.43h2.00M362.23 407.21h2.00M362.89 414.18h2.00M363.56 404.85h2.00M364.22 417.32h2.00M364.88 392.35h2.00M365.55 398.60h2.00M366.21 417.17h2.00M366.87 412.92h2.00M367.53 409.35h2.00M368.20 408.45h2.00M368.86 400.92h2.00M369.52 402.32h2.00M370.18 414.87h2.00M370.85 426.38h2.00M371.51 410.85h2.00M372.17 425.62h2.00M372.83 416.77h2.00M373.50 429.72h2.00M374.16 401.94h2.00M374.82 413.55h2.00M375.48 406.37h2.00M376.15 415.52h2.00M376.81 414.62h2.00M377.47 402.19h2.00M378.13 404.54h2.00M378.80 419.42h2.00M379.46 417.76h2.00M380.12 393.90h2.00M380.79 404.11h2.00M381.45 414.10h2.00M382.11 405.97h2.00M382.77 405.43h2.00M383.44 412.08h2.00M384.10 413.01h2.00M384.76 418.67h2.00M385.42 409.20h2.00M386.09 409.57h2.00M386.75 404.25h2.00M387.41 407.24h2.00M388.07 429.02h2.00M388.74 429.99h2.00M389.40 400.10h2.00M390.06 418.55h2.00M390.72 404.31h2.00M391.39 407.53h2.00M392.05 405.46h2.00M392.71 408.76h2.00M393.37 412.91h2.00M394.04 411.66h2.00M394.70 411.19h2.00M395.36 397.12h2.00M396.02 405.85h2.00M396.69 410.59h2.00M397.35 404.02h2.00M398.01 415.37h2.00M398.68 429.32h2.00M399.34 408.62h2.00M400.00 424.93h2.00M400.66 408.13h2.00M401.33 413.26h2.00M401.99 402.74h2.00M402.65 427.38h2.00M403.31 414.38h2.00M403.98 415.95h2.00M404.64 444.51h2.00M405.30 409.74h2.00M405.96 399.77h2.00M406.63 412.28h2.00M407.29 376.41h2.00M407.95 411.79h2.00M408.61 406.48h2.00M409.28 413.08h2.00M409.94 428.67h2.00M410.60 405.67h2.00M411.26 404.72h2.00M411.93 429.77h2.00M412.59 434.84h2.00M413.25 407.11h2.00M413.92 431.85h2.00M414.58 411.93h2.00M415.24 415.94h2.00M415.90 417.71h2.00M416.57 407.99h2.00M417.23 414.11h2.00M417.89 412.46h2.00M418.55 401.31h2.00M419.22 402.95h2.00M419.88 418.21h2.00M420.54 414.33h2.00M421.20 411.14h2.00M421.87 412.77h2.00M422.53 415.51h2.00M423.19 406.60h2.00M423.85 420.17h2.00M424.52 429.26h2.00M425.18 410.62h2.00M425.84 401.76h2.00M426.50 391.04h2.00M427.17 446.79h2.00M427.83 411.02h2.00M428.49 420.63h2.00M429.15 419.31h2.00M429.82 397.32h2.00M430.48 416.38h2.00M431.14 412.71h2.00M431.81 402.90h2.00M432.47 424.25h2.00M433.13 402.62h2.00M433.79 420.27h2.00M434.46 404.05h2.00M435.12 404.69h2.00M435.78 413.88h2.00M436.44 427.51h2.00M437.11 414.70h2.00M437.77 400.14h2.00M438.43 391.06h2.00M439.09 426.74h2.00M439.76 445.51h2.00M440.42 397.81h2.00M441.08 404.33h2.00M441.74 411.33h2.00M442.41 411.42h2.00M443.07 412.56h2.00M443.73 426.18h2.00M444.39 444.87h2.00M445.06 424.21h2.00M445.72 408.12h2.00M446.38 412.94h2.00M447.05 414.34h2.00M447.71 412.69h2.00M448.37 421.26h2.00M449.03 418.66h2.00M449.70 410.91h2.00M450.36 406.05h2.00M451.02 402.47h2.00M451.68 424.90h2.00M452.35 413.53h2.00M453.01 410.05h2.00M453.67 423.10h2.00M454.33 407.66h2.00M455.00 409.56h2.00M455.66 424.55h2.00M456.32 409.38h2.00M456.98 403.07h2.00M457.65 400.29h2.00M458.31 424.11h2.00M458.97 411.18h2.00M459.63 422.48h2.00M460.30 426.76h2.00M460.96 425.77h2.00M461.62 430.50h2.00M462.28 422.14h2.00M462.95 402.41h2.00M463.61 416.07h2.00M464.27 409.61h2.00M464.94 423.00h2.00M465.60 440.98h2.00M466.26 425.64h2.00M466.92 436.38h2.00M467.59 420.30h2.00M468.25 413.07h2.00M468.91 423.08h2.00M469.57 416.33h2.00M470.24 416.82h2.00M470.90 452.77h2.00M471.56 414.22h2.00M472.22 427.87h2.00M472.89 413.13h2.00M473.55 410.01h2.00M474.21 415.40h2.00M474.87 411.52h2.00M475.54 416.86h2.00M476.20 404.62h2.00M476.86 416.20h2.00M477.52 419.31h2.00M478.19 420.04h2.00M478.85 428.42h2.00M479.51 432.38h2.00M480.18 421.57h2.00M480.84 425.50h2.00M481.50 419.48h2.00M482.16 404.07h2.00M482.83 425.93h2.00M483.49 411.02h2.00M484.15 425.46h2.00M484.81 413.18h2.00M485.48 404.91h2.00M486.14 393.94h2.00M486.80 421.87h2.00M487.46 415.74h2.00M488.13 422.56h2.00M488.79 423.12h2.00M489.45 412.01h2.00M490.11 411.49h2.00M490.78 416.37h2.00M491.44 418.76h2.00M492.10 410.04h2.00M492.76 424.56h2.00M493.43 413.78h2.00M494.09 399.83h2.00M494.75 406.62h2.00M495.41 406.36h2.00M496.08 428.99h2.00M496.74 402.40h2.00M497.40 405.92h2.00M498.07 440.10h2.00M498.73 437.13h2.00M499.39 409.81h2.00M500.05 422.76h2.00M500.72 421.51h2.00M501.38 416.38h2.00M502.04 420.43h2.00M502.70 421.20h2.00M503.37 440.20h2.00M504.03 445.22h2.00M504.69 433.23h2.00M505.35 419.77h2.00M506.02 407.71h2.00M506.68 413.96h2.00M507.34 428.22h2.00M508.00 433.24h2.00M508.67 417.37h2.00M509.33 423.62h2.00M509.99 407.58h2.00M510.65 401.98h2.00M511.32 440.22h2.00M511.98 424.48h2.00M512.64 418.14h2.00M513.31 415.78h2.00M513.97 407.69h2.00M514.63 395.53h2.00M515.29 421.62h2.00M515.96 398.06h2.00M516.62 423.66h2.00M517.28 425.32h2.00M517.94 414.86h2.00M518.61 430.90h2.00M519.27 422.27h2.00M519.93 404.76h2.00M520.59 427.69h2.00M521.26 423.53h2.00M521.92 385.33h2.00M522.58 417.35h2.00M523.24 438.07h2.00M523.91 452.36h2.00M524.57 417.02h2.00M525.23 419.07h2.00M525.89 419.31h2.00M526.56 418.13h2.00M527.22 420.05h2.00M527.88 419.01h2.00M528.54 400.96h2.00M529.21 394.50h2.00M529.87 416.35h2.00M530.53 427.80h2.00M531.20 409.03h2.00M531.86 421.29h2.00M532.52 416.08h2.00M533.18 427.17h2.00M533.85 428.83h2.00M534.51 435.81h2.00M535.17 404.39h2.00M535.83 393.61h2.00M536.50 433.00h2.00M537.16 433.24h2.00M537.82 452.60h2.00M538.48 434.47h2.00M539.15 414.92h2.00M539.81 403.35h2.00M540.47 411.55h2.00M541.13 434.66h2.00M541.80 425.48h2.00M542.46 424.76h2.00M543.12 450.77h2.00M543.78 415.75h2.00M544.45 400.28h2.00M545.11 408.53h2.00M545.77 409.74h2.00M546.44 415.40h2.00M547.10 424.99h2.00M547.76 431.49h2.00M548.42 441.41h2.00M549.09 403.08h2.00M549.75 407.81h2.00M550.41 410.28h2.00M551.07 417.78h2.00M551.74 412.53h2.00M552.40 422.69h2.00M553.06 447.07h2.00M553.72 430.67h2.00M554.39 420.17h2.00M555.05 419.43h2.00M555.71 420.44h2.00M556.37 424.15h2.00M557.04 407.36h2.00M557.70 411.31h2.00M558.36 422.46h2.00M559.02 437.52h2.00M559.69 440.73h2.00M560.35 401.98h2.00M561.01 428.44h2.00M561.67 418.12h2.00M562.34 418.13h2.00M563.00 424.55h2.00M563.66 423.23h2.00M564.33 412.30h2.00M564.99 419.77h2.00M565.65 414.96h2.00M566.31 411.57h2.00M566.98 408.07h2.00M567.64 416.79h2.00M568.30 419.20h2.00M568.96 421.08h2.00M569.63 416.16h2.00M570.29 424.02h2.00M570.95 403.77h2.00M571.61 420.15h2.00M572.28 410.14h2.00M572.94 407.81h2.00M573.60 398.99h2.00M574.26 409.25h2.00M574.93 407.70h2.00M575.59 416.40h2.00M576.25 426.55h2.00M576.91 411.70h2.00M577.58 426.74h2.00M578.24 416.23h2.00M578.90 416.45h2.00M579.57 409.44h2.00M580.23 428.33h2.00M580.89 416.04h2.00M581.55 411.21h2.00M582.22 418.85h2.00M582.88 415.51h2.00M583.54 413.93h2.00M584.20 433.61h2.00M584.87 418.80h2.00M585.53 399.34h2.00M586.19 406.81h2.00M586.85 407.34h2.00M587.52 410.62h2.00M588.18 432.23h2.00M588.84 407.03h2.00M589.50 441.22h2.00M590.17 421.76h2.00M590.83 440.22h2.00M591.49 455.06h2.00M592.15 409.04h2.00M592.82 416.64h2.00M593.48 434.00h2.00M594.14 455.27h2.00M594.80 430.28h2.00M595.47 406.28h2.00M596.13 424.26h2.00M596.79 428.79h2.00M597.46 413.33h2.00M598.12 397.91h2.00M598.78 430.84h2.00M599.44 432.90h2.00M600.11 402.47h2.00M600.77 426.84h2.00M601.43 400.06h2.00M602.09 427.08h2.00M602.76 428.12h2.00M603.42 417.09h2.00M604.08 397.65h2.00M604.74 415.82h2.00M605.41 414.74h2.00M606.07 392.46h2.00M606.73 417.37h2.00M607.39 433.39h2.00M608.06 412.85h2.00M608.72 414.75h2.00M609.38 419.40h2.00M610.04 445.04h2.00M610.71 425.15h2.00M611.37 413.73h2.00M612.03 427.20h2.00M612.70 411.58h2.00M613.36 404.82h2.00M614.02 421.86h2.00M614.68 419.36h2.00M615.35 436.18h2.00M616.01 423.10h2.00M616.67 437.29h2.00M617.33 419.42h2.00M618.00 422.94h2.00M618.66 422.72h2.00M619.32 426.47h2.00M619.98 435.09h2.00M620.65 411.49h2.00M621.31 405.13h2.00M621.97 422.36h2.00M622.63 419.84h2.00M623.30 416.80h2.00M623.96 443.99h2.00M624.62 414.42h2.00M625.28 426.01h2.00M625.95 427.19h2.00M626.61 425.58h2.00M627.27 418.00h2.00M627.93 414.79h2.00M628.60 423.37h2.00M629.26 421.88h2.00M629.92 418.55h2.00M630.59 427.53h2.00M631.25 429.58h2.00M631.91 418.77h2.00M632.57 407.61h2.00M633.24 410.55h2.00M633.90 431.60h2.00M634.56 421.04h2.00M635.22 411.69h2.00M635.89 406.25h2.00M636.55 426.53h2.00M637.21 423.74h2.00M637.87 420.17h2.00M638.54 434.47h2.00M639.20 422.81h2.00M639.86 434.07h2.00M640.52 431.45h2.00M641.19 417.83h2.00M641.85 428.18h2.00M642.51 424.87h2.00M643.17 458.90h2.00M643.84 420.62h2.00M644.50 431.83h2.00M645.16 421.82h2.00M645.83 425.58h2.00M646.49 417.23h2.00M647.15 429.91h2.00M647.81 414.48h2.00M648.48 419.79h2.00M649.14 446.20h2.00M649.80 415.25h2.00M650.46 424.79h2.00M651.13 432.96h2.00M651.79 433.01h2.00M652.45 436.07h2.00M653.11 431.20h2.00M653.78 422.45h2.00M654.44 421.39h2.00M655.10 427.11h2.00M655.76 418.50h2.00M656.43 416.48h2.00M657.09 449.91h2.00M657.75 427.69h2.00M658.41 461.23h2.00M659.08 421.39h2.00M659.74 426.05h2.00M660.40 433.51h2.00M661.06 445.36h2.00M661.73 427.86h2.00M662.39 445.05h2.00M663.05 417.66h2.00M663.72 411.43h2.00M664.38 434.11h2.00M665.04 426.80h2.00M665.70 434.61h2.00M666.37 448.11h2.00M667.03 439.91h2.00M667.69 437.10h2.00M668.35 425.69h2.00M669.02 429.69h2.00M669.68 421.45h2.00M670.34 432.77h2.00M671.00 419.64h2.00M671.67 441.32h2.00M672.33 430.68h2.00M672.99 436.67h2.00M673.65 417.78h2.00M674.32 423.29h2.00M674.98 436.97h2.00M675.64 426.87h2.00M676.30 426.62h2.00M676.97 415.88h2.00M677.63 461.88h2.00M678.29 422.47h2.00M678.96 436.12h2.00M679.62 429.65h2.00M680.28 425.90h2.00M680.94 409.76h2.00M681.61 409.82h2.00M682.27 425.60h2.00M682.93 415.78h2.00M683.59 423.24h2.00M684.26 435.99h2.00M684.92 421.53h2.00M685.58 441.24h2.00M686.24 424.74h2.00M686.91 444.24h2.00M687.57 438.39h2.00M688.23 449.28h2.00M688.89 430.74h2.00M689.56 435.29h2.00M690.22 462.20h2.00M690.88 428.20h2.00M691.54 427.07h2.00M692.21 408.82h2.00M692.87 429.57h2.00M693.53 422.09h2.00M694.19 431.31h2.00M694.86 416.32h2.00M695.52 408.21h2.00M696.18 417.92h2.00M696.85 423.31h2.00M697.51 434.59h2.00M698.17 426.61h2.00M698.83 428.49h2.00M699.50 409.76h2.00M700.16 421.04h2.00M700.82 431.66h2.00M701.48 402.35h2.00M702.15 424.08h2.00M702.81 444.17h2.00M703.47 428.45h2.00M704.13 421.59h2.00M704.80 462.51h2.00M705.46 425.50h2.00M706.12 428.04h2.00M706.78 406.85h2.00M707.45 435.45h2.00M708.11 441.77h2.00M708.77 427.73h2.00M709.43 428.40h2.00M710.10 431.98h2.00M710.76 434.31h2.00M711.42 462.64h2.00M712.09 421.67h2.00M712.75 418.02h2.00M713.41 407.27h2.00M714.07 404.09h2.00M714.74 427.03h2.00M715.40 415.87h2.00M716.06 418.19h2.00M716.72 457.44h2.00M717.39 429.26h2.00M718.05 423.44h2.00M718.71 439.05h2.00M719.37 431.79h2.00M720.04 431.27h2.00M720.70 421.87h2.00M721.36 439.42h2.00M722.02 433.60h2.00M722.69 446.80h2.00M723.35 419.22h2.00M724.01 426.69h2.00M724.67 439.71h2.00M725.34 462.93h2.00M726.00 442.54h2.00M726.66 436.32h2.00M727.32 418.31h2.00M727.99 421.78h2.00M728.65 415.28h2.00M729.31 411.65h2.00M729.98 423.96h2.00M730.64 442.16h2.00M731.30 435.22h2.00M731.96 428.33h2.00M732.63 438.89h2.00M733.29 438.34h2.00M733.95 421.34h2.00M734.61 387.56h2.00M735.28 426.32h2.00M735.94 446.28h2.00M736.60 420.61h2.00M737.26 435.79h2.00M737.93 445.50h2.00M738.59 416.11h2.00M739.25 463.26h2.00M739.91 427.02h2.00M740.58 410.66h2.00M741.24 423.49h2.00M741.90 437.98h2.00M742.56 432.30h2.00M743.23 427.25h2.00M743.89 429.23h2.00M744.55 435.96h2.00M745.22 449.05h2.00M745.88 414.22h2.00M746.54 415.40h2.00M747.20 424.60h2.00M747.87 424.58h2.00M748.53 459.87h2.00M749.19 435.50h2.00M749.85 443.53h2.00M750.52 431.39h2.00M751.18 428.21h2.00M751.84 425.69h2.00M752.50 420.89h2.00M753.17 434.47h2.00M753.83 432.66h2.00M754.49 447.37h2.00M755.15 431.50h2.00M755.82 437.61h2.00M756.48 435.86h2.00M757.14 418.04h2.00M757.80 432.61h2.00M758.47 413.23h2.00M759.13 436.12h2.00M759.79 463.01h2.00M760.45 423.74h2.00M761.12 430.85h2.00M761.78 433.53h2.00M762.44 418.25h2.00M763.11 447.85h2.00M763.77 433.86h2.00M764.43 430.03h2.00M765.09 447.02h2.00M765.76 416.23h2.00M766.42 421.72h2.00M767.08 395.34h2.00M767.74 426.95h2.00" stroke="#000000" stroke-width="2.00" fill="none"/>
<rect x="107.8" y="1.4" width="662.6" height="544.5" fill="none" stroke="#000" stroke-width="3.3"/>
<path d="M107.80 545.90V529.40M140.93 545.90V537.60M174.06 545.90V537.60M207.19 545.90V537.60M240.32 545.90V529.40M273.45 545.90V537.60M306.58 545.90V537.60M339.71 545.90V537.60M372.84 545.90V529.40M405.97 545.90V537.60M439.10 545.90V537.60M472.23 545.90V537.60M505.36 545.90V529.40M538.49 545.90V537.60M571.62 545.90V537.60M604.75 545.90V537.60M637.88 545.90V529.40M671.01 545.90V537.60M704.14 545.90V537.60M737.27 545.90V537.60M770.40 545.90V529.40M107.80 545.90H128.00M107.80 504.93H117.90M107.80 480.96H117.90M107.80 463.96H117.90M107.80 450.77H117.90M107.80 439.99H117.90M107.80 430.88H117.90M107.80 422.99H117.90M107.80 416.03H117.90M107.80 409.80H128.00M107.80 368.83H117.90M107.80 344.86H117.90M107.80 327.86H117.90M107.80 314.67H117.90M107.80 303.89H117.90M107.80 294.78H117.90M107.80 286.89H117.90M107.80 279.93H117.90M107.80 273.70H128.00M107.80 232.73H117.90M107.80 208.76H117.90M107.80 191.76H117.90M107.80 178.57H117.90M107.80 167.79H117.90M107.80 158.68H117.90M107.80 150.79H117.90M107.80 143.83H117.90M107.80 137.60H128.00M107.80 96.63H117.90M107.80 72.66H117.90M107.80 55.66H117.90M107.80 42.47H117.90M107.80 31.69H117.90M107.80 22.58H117.90M107.80 14.69H117.90M107.80 7.73H117.90" stroke="#000" stroke-width="1.6" fill="none"/>
<text x="55.5" y="149.0" font-family="'Liberation Serif', serif" font-size="36.5">10</text>
<text x="90.0" y="131.0" font-family="'Liberation Serif', serif" font-size="19">0</text>
<text x="52.4" y="285.5" font-family="'Liberation Serif', serif" font-size="36.5">10</text>
<text x="86.8" y="267.0" font-family="'Liberation Serif', serif" font-size="19">-1</text>
<text x="48.6" y="421.4" font-family="'Liberation Serif', serif" font-size="36.5">10</text>
<text x="83.9" y="402.1" font-family="'Liberation Serif', serif" font-size="19">-2</text>
<text x="45.1" y="557.6" font-family="'Liberation Serif', serif" font-size="36.5">10</text>
<text x="80.3" y="539.7" font-family="'Liberation Serif', serif" font-size="19">-3</text>
<text x="118.5" y="587.7" font-family="'Liberation Serif', serif" font-size="37.2" text-anchor="middle">0</text>
<text x="244.4" y="587.7" font-family="'Liberation Serif', serif" font-size="37.2" text-anchor="middle">200</text>
<text x="376.4" y="587.7" font-family="'Liberation Serif', serif" font-size="37.2" text-anchor="middle">400</text>
<text x="509.5" y="587.7" font-family="'Liberation Serif', serif" font-size="37.2" text-anchor="middle">600</text>
<text x="641.7" y="587.7" font-family="'Liberation Serif', serif" font-size="37.2" text-anchor="middle">800</text>
<text x="184.5" y="635.2" font-family="'Liberation Serif', serif" font-size="40.5">Pulse-height [ADC channels]</text>
<g transform="translate(35,439) rotate(-90)"><text x="0" y="0" font-family="'Liberation Serif', serif" font-size="41">Counts [s<tspan font-size="20" dy="-21" dx="-0.5">-1</tspan><tspan dy="21" dx="-0.8">/bin]</tspan></text></g>
<rect x="526.8" y="12.1" width="236.3" height="213" fill="#fff" stroke="#000" stroke-width="1.8"/>
<text x="550.6" y="56.6" font-family="'Liberation Serif', serif" font-size="40.8">AP voltage:</text>
<text x="609.4" y="105.2" font-family="'Liberation Serif', serif" font-size="40.8">50 V</text>
<path d="M572.9 88.6H604M588.4 78.2V99.0" stroke="#cc1a1a" stroke-width="1.5" fill="none"/>
<rect x="587.4" y="87.6" width="2" height="2" fill="#000"/>
<text x="610.0" y="148.2" font-family="'Liberation Serif', serif" font-size="40.8">400 V</text>
<path d="M572.9 130.8H604M588.4 120.4V141.2" stroke="#0000ff" stroke-width="1.5" fill="none"/>
<rect x="587.4" y="129.8" width="2" height="2" fill="#000"/>
<text x="610.4" y="199.1" font-family="'Liberation Serif', serif" font-size="40.8">780 V</text>
<path d="M572.9 183.0H604M588.4 172.6V193.4" stroke="#000" stroke-width="1.5" fill="none"/>
<rect x="587.4" y="182.0" width="2" height="2" fill="#000"/>
</svg></body></html>
